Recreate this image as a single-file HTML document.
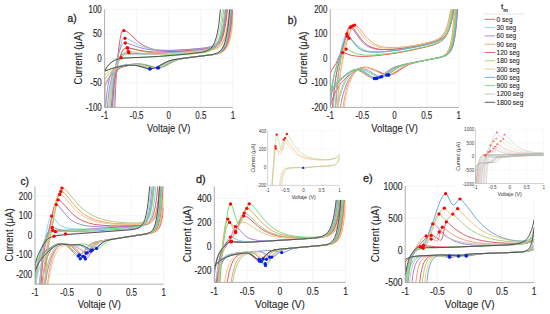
<!DOCTYPE html><html><head><meta charset="utf-8"><style>html,body{margin:0;padding:0;background:#fff;}svg{display:block;}</style></head><body>
<svg width="550" height="314" viewBox="0 0 550 314" font-family='"Liberation Sans", sans-serif'>
<style>.t{stroke:#262626;stroke-width:0.1px;}</style>
<defs>
<clipPath id="clipa"><rect x="104.60" y="9.40" width="128.30" height="98.00"/></clipPath>
<clipPath id="clipb"><rect x="330.30" y="9.40" width="128.50" height="98.00"/></clipPath>
<clipPath id="clipc"><rect x="35.00" y="186.40" width="128.60" height="97.80"/></clipPath>
<clipPath id="clipd"><rect x="214.30" y="186.40" width="131.30" height="96.00"/></clipPath>
<clipPath id="clipe"><rect x="405.20" y="186.00" width="129.00" height="96.60"/></clipPath>
<clipPath id="clipi1"><rect x="267.60" y="130.70" width="72.00" height="54.70"/></clipPath>
<clipPath id="clipi2"><rect x="475.50" y="129.20" width="68.30" height="54.30"/></clipPath>
</defs>
<path d="M136.7 9.4V107.4M168.8 9.4V107.4M200.8 9.4V107.4M232.9 9.4V107.4M104.6 82.9H232.9M104.6 58.4H232.9M104.6 33.9H232.9M104.6 9.4H232.9" stroke="#efefef" stroke-width="0.6" fill="none"/>
<g clip-path="url(#clipa)" fill="none" stroke-width="0.95" stroke-linejoin="round" opacity="1.0">
<path d="M232.9 9.4 231.1 27.1 229.0 38.5 227.8 43.1 226.3 46.6 224.6 49.3 222.8 51.2 221.2 52.3 219.3 53.2 214.4 54.4 183.7 58.2 176.2 59.6 173.1 60.5 170.1 61.7 160.2 67.0 156.4 68.1 154.2 68.3 151.8 68.0 142.0 65.1 136.5 64.3 132.3 64.3 127.5 64.8 124.1 65.5 121.5 66.5 119.3 68.0 117.4 70.5 116.0 73.8 114.7 78.3 113.6 84.2 112.7 91.0 110.8 112.3 104.6 112.3 114.5 112.3 116.0 79.9 117.6 58.4 118.9 47.1 120.2 38.5 121.3 33.4 122.4 31.0 123.5 30.6 124.6 30.7 127.2 31.8 129.4 33.6 137.6 41.3 140.6 43.5 143.7 45.5 149.6 48.2 156.2 50.0 160.9 50.8 166.3 51.3 179.3 51.5 199.3 50.5 206.5 49.8 211.2 49.0 214.5 47.9 217.1 46.4 219.3 44.1 221.2 41.1 223.2 35.8 225.0 27.9 226.5 18.3 227.9 4.5 232.9 4.5" stroke="#f24a4a"/>
<path d="M232.9 4.5 232.2 4.5 232.0 4.8 230.1 24.4 229.0 32.2 227.8 38.7 226.5 43.2 225.2 46.4 223.5 49.2 221.7 51.2 220.1 52.4 218.2 53.2 213.3 54.5 182.4 58.4 174.9 59.7 171.8 60.7 168.8 61.9 158.9 67.1 155.1 68.3 152.9 68.4 150.5 68.1 140.8 65.2 135.1 64.4 130.7 64.5 125.9 65.0 122.4 65.8 119.7 66.8 117.3 68.6 115.4 70.9 113.8 74.5 112.5 78.7 111.4 83.9 110.3 91.1 108.3 112.3 104.6 112.3 113.4 112.3 115.1 83.6 116.9 64.8 118.4 55.2 120.2 46.1 121.7 41.0 123.0 38.8 123.9 38.4 125.2 38.3 127.7 38.9 138.6 44.9 145.0 47.5 150.9 49.0 157.6 49.9 169.2 50.4 184.4 49.9 203.0 48.4 207.9 47.8 211.6 46.9 214.9 45.5 217.5 43.3 219.5 40.5 221.3 36.3 223.0 30.6 224.3 24.1 225.6 15.1 226.7 4.6 232.9 4.5" stroke="#79d6f2"/>
<path d="M232.9 4.5 231.4 4.5 229.2 26.7 228.1 33.8 226.8 39.8 225.6 44.1 224.3 47.1 222.8 49.4 221.0 51.4 219.5 52.4 217.7 53.3 212.9 54.6 184.4 58.1 177.1 59.5 171.2 61.7 161.5 66.8 157.6 68.0 155.4 68.1 153.2 67.9 143.0 64.8 139.8 64.3 136.7 64.1 131.2 64.3 123.9 65.2 119.5 66.0 116.5 67.1 114.1 68.8 112.3 71.2 110.7 74.6 109.4 78.7 108.1 84.8 107.0 92.3 105.2 112.0 105.0 112.3 104.6 112.3 111.4 112.3 113.0 85.6 114.0 76.3 115.1 68.4 116.5 61.2 118.9 52.8 121.3 46.2 122.2 44.4 123.0 43.5 123.5 43.2 125.0 43.0 127.9 43.4 139.1 47.4 145.9 49.1 152.0 50.0 158.9 50.4 172.1 50.4 189.8 49.3 204.5 47.9 208.5 47.2 211.6 46.4 214.7 44.9 217.1 42.7 219.1 39.7 220.8 35.9 222.4 30.0 223.7 23.5 226.1 4.5 232.9 4.5" stroke="#a77bd6"/>
<path d="M232.9 16.6 231.1 31.4 230.0 37.2 228.7 42.1 227.4 45.6 225.7 48.6 223.9 50.7 221.9 52.2 218.6 53.5 213.8 54.5 184.3 58.1 176.6 59.5 173.4 60.4 170.3 61.6 160.0 67.1 156.2 68.2 154.0 68.3 151.8 68.0 142.6 65.3 137.8 64.6 134.9 64.6 131.6 64.9 124.8 66.4 121.1 67.7 118.0 69.3 115.2 71.1 112.7 73.5 110.3 76.4 108.3 79.5 106.4 83.2 104.6 87.7 104.8 112.3 111.9 112.3 113.8 88.5 114.9 79.3 116.2 71.7 118.2 63.2 121.1 54.0 123.1 49.5 123.9 48.6 124.8 48.1 127.0 47.7 129.6 47.9 140.9 51.1 148.1 52.4 155.4 53.0 164.3 53.2 182.6 52.4 205.0 50.4 213.3 49.1 216.0 48.2 218.2 47.0 220.1 45.6 221.7 43.6 223.2 41.0 224.5 37.8 226.1 31.9 227.4 25.2 230.0 4.5 232.9 4.5" stroke="#f59a6e"/>
<path d="M232.9 4.5 232.7 4.5 232.5 6.0 230.5 26.5 228.5 38.2 227.2 42.9 225.7 46.5 224.1 49.3 222.3 51.2 220.8 52.2 219.0 53.1 214.2 54.4 186.3 57.9 178.9 59.3 173.1 61.5 163.5 66.6 159.8 67.7 157.6 67.9 155.4 67.7 144.6 64.6 141.5 64.2 138.2 64.1 133.0 64.5 127.4 65.6 122.4 67.1 118.4 68.8 114.1 71.6 110.5 75.4 107.4 80.1 104.6 86.1 104.8 112.3 111.9 112.2 113.8 87.8 114.9 78.4 116.0 71.6 117.6 64.3 119.7 57.8 122.0 51.8 123.0 50.2 123.9 49.1 125.9 48.3 128.6 48.1 131.6 48.6 140.8 50.6 146.4 51.4 154.3 52.0 163.7 52.0 179.3 51.2 198.8 49.7 208.1 48.5 213.4 47.1 216.4 45.5 218.6 43.3 220.6 40.1 222.3 36.0 223.7 30.5 225.0 23.8 227.4 4.5 232.9 4.5" stroke="#d9576a"/>
<path d="M232.9 4.5 231.4 4.5 229.2 26.7 228.1 33.8 226.8 39.8 225.6 44.1 224.3 47.1 222.8 49.4 221.0 51.4 219.3 52.5 217.5 53.3 212.5 54.6 180.8 58.6 173.1 59.9 167.7 61.7 157.6 67.1 153.4 68.5 151.2 68.7 149.0 68.5 138.6 65.6 135.6 65.1 132.5 65.0 128.3 65.4 123.5 66.4 119.1 67.7 115.2 69.4 112.1 71.4 109.4 73.6 106.8 76.4 104.6 79.6 104.8 112.3 109.6 112.3 111.8 89.4 113.0 80.7 114.5 73.6 116.0 68.7 118.0 63.6 122.0 55.5 123.1 53.7 124.2 52.4 126.1 51.7 129.2 51.5 132.3 51.8 141.7 53.5 147.6 54.2 155.6 54.6 165.2 54.5 181.0 53.6 199.1 52.1 207.0 51.0 211.8 49.6 214.7 47.8 216.9 45.4 218.8 42.1 220.4 37.6 221.9 31.8 223.2 24.5 224.3 16.0 225.4 4.8 225.6 4.5 232.9 4.5" stroke="#a8cc72"/>
<path d="M232.9 22.5 230.9 35.8 229.8 40.5 228.5 44.4 227.0 47.5 225.4 49.8 223.4 51.6 221.0 52.9 217.8 53.8 213.4 54.6 184.6 58.1 176.9 59.4 171.2 61.2 160.8 66.7 158.4 67.7 156.2 68.2 154.0 68.3 151.6 68.0 142.8 65.4 138.2 64.6 132.5 64.6 125.5 65.6 118.7 67.3 113.2 69.3 108.6 71.9 104.6 75.2 104.8 112.3 108.5 112.3 109.6 99.1 110.8 87.5 112.1 79.3 113.6 72.6 115.2 67.5 117.1 63.7 121.9 56.7 124.2 53.8 125.7 53.0 129.2 52.7 142.8 54.0 149.6 54.4 158.9 54.5 170.3 54.0 187.7 52.7 205.4 51.0 212.5 49.9 217.1 48.5 219.5 47.1 221.5 45.1 223.4 42.3 224.8 38.9 226.5 33.3 227.9 26.0 229.2 16.9 230.5 4.5 232.9 4.5" stroke="#f2c47a"/>
<path d="M232.9 4.5 232.2 4.5 232.0 4.8 230.1 24.4 229.0 32.2 227.8 38.7 226.5 43.2 225.2 46.4 223.5 49.2 221.7 51.2 220.1 52.4 218.2 53.2 213.1 54.6 179.7 58.7 171.8 60.1 166.5 61.9 156.4 67.2 154.2 68.1 152.0 68.6 149.8 68.8 147.4 68.5 137.6 65.6 132.1 64.8 128.3 64.8 124.1 65.3 120.8 66.0 118.4 67.0 116.2 68.5 114.5 70.5 113.0 73.2 111.8 76.8 110.5 82.1 109.2 89.9 108.1 99.5 107.0 112.3 104.6 112.3 111.4 112.3 111.6 112.0 113.0 88.0 114.0 78.6 115.1 70.9 116.2 65.7 117.6 61.3 119.7 57.5 121.9 55.0 123.7 54.0 127.0 53.5 141.9 53.9 150.7 53.9 163.2 53.3 178.8 52.2 204.1 49.7 209.6 48.8 213.3 47.6 216.0 45.9 218.2 43.6 220.1 40.5 221.7 36.2 223.2 30.6 224.5 23.6 225.6 15.5 226.7 4.8 226.8 4.5 232.9 4.5" stroke="#6aa6d8"/>
<path d="M232.9 4.5 230.9 4.5 230.7 5.0 229.6 17.9 228.5 27.4 227.2 35.4 225.6 42.2 224.3 45.8 222.6 48.9 220.8 51.0 218.4 52.7 215.5 53.9 211.2 54.8 187.4 57.8 180.2 59.1 177.1 60.1 174.2 61.3 164.4 66.5 160.6 67.7 158.2 67.8 155.6 67.5 147.6 65.0 144.1 64.3 140.8 64.0 136.9 64.0 128.1 65.1 118.0 66.9 110.7 68.9 104.6 71.2 106.6 67.5 109.4 64.3 115.2 59.4 116.9 58.4 118.4 58.0 123.9 57.4 138.6 57.5 149.2 57.2 174.7 55.5 201.9 52.9 207.4 51.9 211.2 50.4 213.8 48.6 216.0 45.9 217.8 42.3 219.3 38.0 220.6 32.6 221.9 25.1 224.3 4.5 232.9 4.5" stroke="#6fdd6f"/>
<path d="M232.9 4.5 230.9 4.5 230.7 5.0 228.7 26.0 227.4 34.4 226.1 40.3 225.0 43.9 223.7 47.0 222.3 49.4 220.4 51.4 219.0 52.4 217.1 53.3 212.2 54.6 183.3 58.3 175.8 59.7 169.9 61.8 160.2 67.0 156.5 68.1 154.3 68.3 152.1 68.1 141.7 65.0 138.6 64.5 135.4 64.4 130.8 64.7 125.7 65.6 121.3 66.8 117.6 68.3 113.6 71.1 111.8 72.9 110.1 75.1 107.2 80.3 104.6 87.2 104.8 112.3 109.9 112.3 111.9 87.3 113.0 78.6 114.1 72.3 115.4 67.2 117.1 62.8 119.3 59.1 121.7 56.4 123.7 55.2 127.5 54.6 143.9 54.6 154.2 54.3 169.2 53.4 187.4 51.9 202.6 50.3 206.7 49.4 209.6 48.4 212.3 46.6 214.5 44.2 216.4 40.9 218.0 36.4 219.3 31.3 220.6 24.3 223.0 4.5 232.9 4.5" stroke="#c4c4c4"/>
<path d="M232.9 4.5 230.1 4.5 228.9 18.9 227.8 28.2 226.5 35.9 224.8 42.6 223.5 46.1 221.9 49.1 220.1 51.2 217.7 52.8 214.4 54.1 209.8 55.0 179.9 58.7 172.1 60.0 166.5 61.9 156.4 67.3 154.2 68.2 152.0 68.7 149.6 68.9 147.0 68.6 139.1 66.2 135.8 65.5 132.9 65.2 129.6 65.2 123.5 65.9 116.2 67.4 109.9 69.1 104.6 71.2 107.0 66.8 109.9 63.6 111.9 62.0 114.5 60.5 116.7 59.5 118.7 58.9 125.3 58.1 158.7 56.4 187.4 54.0 201.3 52.3 205.0 51.5 207.9 50.4 210.5 48.6 212.7 46.0 214.5 42.5 216.2 37.7 217.5 32.3 218.8 24.7 221.0 4.5 232.9 4.5" stroke="#4d4d4d"/>
<circle cx="123.9" cy="30.6" r="1.65" fill="#ff0000"/>
<circle cx="125.0" cy="38.3" r="1.65" fill="#ff0000"/>
<circle cx="125.3" cy="43.0" r="1.65" fill="#ff0000"/>
<circle cx="127.4" cy="47.7" r="1.65" fill="#ff0000"/>
<circle cx="127.5" cy="48.1" r="1.65" fill="#ff0000"/>
<circle cx="157.6" cy="67.9" r="1.65" fill="#0a1ee6"/>
<circle cx="128.3" cy="51.5" r="1.65" fill="#ff0000"/>
<circle cx="128.8" cy="52.7" r="1.65" fill="#ff0000"/>
<circle cx="150.1" cy="68.8" r="1.65" fill="#0a1ee6"/>
<circle cx="121.1" cy="57.6" r="1.65" fill="#ff0000"/>
<circle cx="158.7" cy="67.8" r="1.65" fill="#0a1ee6"/>
<circle cx="149.9" cy="68.9" r="1.65" fill="#0a1ee6"/>
</g>
<path d="M104.60 9.40 V107.40 H232.90" fill="none" stroke="#a6a6a6" stroke-width="0.9"/>
<text transform="translate(104.60,119.23) scale(1,1.25)" font-size="8.00" text-anchor="middle" fill="#262626" class="t">-1</text>
<text transform="translate(136.68,119.23) scale(1,1.25)" font-size="8.00" text-anchor="middle" fill="#262626" class="t">-0.5</text>
<text transform="translate(168.75,119.23) scale(1,1.25)" font-size="8.00" text-anchor="middle" fill="#262626" class="t">0</text>
<text transform="translate(200.82,119.23) scale(1,1.25)" font-size="8.00" text-anchor="middle" fill="#262626" class="t">0.5</text>
<text transform="translate(232.90,119.23) scale(1,1.25)" font-size="8.00" text-anchor="middle" fill="#262626" class="t">1</text>
<text transform="translate(101.80,110.98) scale(1,1.25)" font-size="8.00" text-anchor="end" fill="#262626" class="t">-100</text>
<text transform="translate(101.80,86.48) scale(1,1.25)" font-size="8.00" text-anchor="end" fill="#262626" class="t">-50</text>
<text transform="translate(101.80,61.98) scale(1,1.25)" font-size="8.00" text-anchor="end" fill="#262626" class="t">0</text>
<text transform="translate(101.80,37.48) scale(1,1.25)" font-size="8.00" text-anchor="end" fill="#262626" class="t">50</text>
<text transform="translate(101.80,12.98) scale(1,1.25)" font-size="8.00" text-anchor="end" fill="#262626" class="t">100</text>
<text transform="translate(168.75,131.60) scale(1,1.12)" font-size="9.40" text-anchor="middle" fill="#262626" class="t">Voltaje (V)</text>
<text transform="translate(81.80,58.00) rotate(-90) scale(1,1.12)" font-size="9.60" text-anchor="middle" fill="#262626" class="t">Current (μA)</text>
<text x="67.50" y="22.00" font-size="10.20" fill="#262626" stroke="#262626" stroke-width="0.3">a)</text>
<path d="M362.4 9.4V107.4M394.6 9.4V107.4M426.7 9.4V107.4M458.8 9.4V107.4M330.3 82.9H458.8M330.3 58.4H458.8M330.3 33.9H458.8M330.3 9.4H458.8" stroke="#efefef" stroke-width="0.6" fill="none"/>
<g clip-path="url(#clipb)" fill="none" stroke-width="0.95" stroke-linejoin="round" opacity="1.0">
<path d="M458.8 4.5 456.8 4.5 455.9 17.6 454.8 29.1 453.7 37.1 452.4 43.6 451.1 47.9 449.8 50.7 448.1 53.2 446.3 54.8 443.4 56.3 438.8 57.7 404.8 64.3 396.7 66.4 393.5 67.6 390.8 69.0 387.7 71.1 380.3 76.5 377.9 77.7 375.9 78.3 373.3 78.4 370.6 77.5 368.0 76.1 362.1 72.1 359.0 70.6 355.9 70.1 352.9 70.7 350.3 71.9 347.4 73.9 343.9 76.9 340.0 80.8 337.1 84.2 334.5 87.6 332.3 91.1 330.3 95.0 330.5 72.7 332.1 69.6 336.0 63.5 339.7 54.9 341.0 53.0 342.1 52.6 343.4 52.7 351.1 55.3 357.7 56.3 366.1 56.4 377.2 55.6 393.0 53.6 409.7 50.7 426.6 46.8 432.5 45.2 436.7 43.7 440.4 41.8 443.4 39.5 445.7 36.5 447.8 32.7 449.6 27.4 451.1 21.3 452.4 14.0 453.7 4.5 458.8 4.5" stroke="#f24a4a"/>
<path d="M458.8 4.5 457.5 4.5 457.3 5.6 455.5 28.1 454.4 36.5 453.3 42.3 452.2 46.4 450.9 49.7 449.4 52.2 447.6 54.2 444.6 56.0 440.0 57.4 406.6 64.0 398.5 66.1 395.6 67.3 392.8 68.7 389.7 70.8 382.1 76.6 379.9 77.8 377.7 78.4 375.2 78.4 372.4 77.5 369.8 76.0 363.6 71.5 360.3 69.9 358.6 69.6 357.0 69.5 355.3 69.8 353.6 70.4 350.7 72.4 347.8 75.6 345.2 79.6 343.0 84.3 341.1 89.5 339.5 95.7 338.0 102.8 336.6 112.1 336.4 112.3 330.3 112.3 333.1 112.3 335.1 86.8 336.2 77.0 337.5 68.2 339.7 56.3 342.6 42.9 344.5 36.7 345.2 35.1 345.9 34.1 346.5 33.8 347.2 33.8 348.9 35.0 354.9 44.0 356.8 46.1 358.8 48.0 360.8 49.3 363.2 50.4 365.8 51.2 368.7 51.7 373.5 52.0 379.4 51.9 386.7 51.4 395.0 50.4 412.3 47.7 429.0 43.9 435.3 42.1 439.7 40.2 443.0 38.1 445.6 35.4 447.0 33.1 448.3 30.5 450.5 24.1 452.4 15.6 454.0 4.5 458.8 4.5" stroke="#79d6f2"/>
<path d="M458.8 4.5 456.2 4.5 454.0 30.0 452.9 37.8 451.6 44.1 450.5 47.7 449.4 50.3 448.0 52.7 446.3 54.4 443.4 56.2 439.1 57.6 411.2 63.1 403.5 65.2 400.3 66.5 397.2 68.2 387.3 75.0 385.3 76.0 383.2 76.6 380.5 76.6 377.7 75.9 375.0 74.5 368.4 70.5 364.7 69.0 362.8 68.7 361.2 68.6 359.3 69.0 357.7 69.7 354.6 71.8 351.6 75.1 348.9 79.2 346.5 84.1 344.5 89.6 342.6 96.1 341.0 103.6 339.5 112.2 330.3 112.3 335.3 112.3 337.5 83.6 338.8 72.2 340.2 62.2 342.6 49.3 345.4 37.0 347.4 30.5 348.3 28.6 349.1 27.8 349.8 27.4 350.7 27.5 351.6 28.0 352.7 29.0 360.1 39.4 362.3 42.0 364.5 44.1 366.7 45.7 368.9 47.0 373.9 48.7 377.5 49.4 381.6 49.7 391.9 49.4 405.3 47.8 420.2 45.1 429.4 42.9 435.6 40.9 439.9 38.9 443.2 36.2 444.8 34.1 446.3 31.7 448.7 25.6 450.7 17.2 452.7 4.5 458.8 4.5" stroke="#a77bd6"/>
<path d="M458.8 4.5 454.9 4.5 453.1 27.0 452.2 34.5 451.1 41.1 449.8 46.3 448.5 49.8 446.9 52.7 445.0 54.7 442.3 56.4 438.6 57.6 416.2 62.2 409.2 64.2 403.5 66.8 393.7 73.2 391.5 74.2 389.3 74.8 386.6 74.8 383.4 74.1 372.6 69.0 368.2 67.5 366.0 67.2 363.9 67.2 361.9 67.6 359.9 68.4 356.6 70.7 353.5 73.9 350.9 77.7 348.7 82.2 346.8 87.6 345.2 94.3 343.9 101.2 342.2 112.3 330.3 112.3 336.9 112.3 337.1 111.9 338.2 94.9 339.3 82.4 340.6 71.8 342.1 62.8 344.6 51.0 348.7 35.8 351.1 28.9 352.2 26.8 353.1 25.6 353.8 25.2 354.7 25.1 355.9 25.4 357.0 26.0 359.5 28.6 366.3 37.1 369.8 40.5 372.2 42.4 374.8 44.0 377.5 45.3 380.5 46.3 383.8 47.1 387.5 47.5 396.1 47.6 407.0 46.6 419.5 44.5 428.3 42.5 434.4 40.6 438.6 38.6 441.7 36.2 443.4 34.2 444.8 31.8 446.1 29.0 447.4 25.4 449.4 17.0 451.4 4.5 458.8 4.5" stroke="#f59a6e"/>
<path d="M458.8 4.5 458.1 4.5 456.2 27.2 455.3 34.5 454.2 40.9 453.1 45.4 451.8 49.0 450.2 52.0 448.3 54.0 445.6 55.7 441.7 57.0 417.8 61.9 410.6 63.9 407.7 65.1 404.8 66.7 394.8 73.3 392.6 74.3 390.6 74.8 387.8 74.9 384.9 74.3 372.9 69.3 367.3 67.7 364.7 67.4 362.3 67.5 360.1 68.1 357.7 69.1 352.7 72.2 345.9 77.9 341.5 82.3 338.0 87.0 334.5 93.7 331.4 102.4 330.3 106.4 330.5 112.3 332.0 112.3 334.5 85.5 335.8 76.8 337.5 68.4 346.5 34.1 348.1 29.4 349.6 27.1 350.3 26.8 351.4 26.9 353.5 28.4 361.2 39.1 363.4 41.6 365.6 43.6 367.8 45.3 370.0 46.6 375.0 48.4 378.5 49.1 382.5 49.5 392.3 49.4 404.9 48.0 419.6 45.4 429.9 43.0 436.9 40.9 441.5 38.8 443.4 37.5 445.0 36.0 446.7 33.9 448.1 31.5 449.4 28.6 450.7 24.9 452.7 16.3 454.6 4.5 458.8 4.5" stroke="#d9576a"/>
<path d="M458.8 4.5 455.5 4.5 453.8 26.0 452.9 33.7 451.8 40.5 450.5 45.9 449.2 49.5 447.6 52.5 445.7 54.5 442.8 56.3 438.2 57.8 404.6 64.4 396.5 66.5 393.5 67.7 390.8 69.1 387.8 71.1 380.7 76.5 378.5 77.7 376.4 78.4 373.9 78.4 371.3 77.6 368.9 76.2 363.2 72.1 360.3 70.7 357.3 70.3 354.4 71.2 351.6 73.1 348.9 76.1 346.3 80.0 343.9 84.8 341.9 90.3 340.2 96.0 338.6 103.3 336.9 112.3 330.3 112.3 334.7 112.3 336.7 85.6 337.8 76.1 339.1 67.7 341.1 57.7 343.7 47.7 345.7 41.8 346.7 40.0 347.6 38.8 348.3 38.4 349.2 38.3 351.1 39.1 358.4 46.2 360.8 48.0 363.2 49.4 365.6 50.4 368.2 51.1 374.2 51.9 379.2 51.9 385.3 51.6 400.2 49.9 417.3 46.7 425.3 44.9 431.6 43.2 436.0 41.6 439.3 39.9 441.9 37.9 444.1 35.3 446.7 30.5 448.7 24.3 450.5 15.7 452.2 4.5 458.8 4.5" stroke="#a8cc72"/>
<path d="M458.8 4.5 455.9 4.5 454.2 25.4 453.3 33.3 452.2 40.2 450.9 45.7 449.6 49.3 448.0 52.3 445.9 54.5 443.2 56.2 439.3 57.5 415.2 62.4 408.1 64.3 405.1 65.5 402.2 67.1 392.4 73.4 390.2 74.4 388.2 74.9 385.5 75.0 382.3 74.3 379.6 73.1 372.0 69.1 368.0 67.7 366.0 67.3 363.9 67.4 362.1 67.8 360.3 68.5 357.1 70.7 354.4 73.6 352.0 77.3 349.8 82.1 347.9 87.7 346.5 93.8 345.0 101.9 343.5 112.3 330.3 112.3 337.3 112.3 337.5 111.7 338.6 93.9 339.7 80.6 341.0 68.9 342.4 58.8 344.6 46.9 347.2 36.2 349.4 29.5 350.5 27.4 351.4 26.3 352.4 25.9 353.5 25.9 354.6 26.4 355.7 27.3 357.7 29.5 364.3 38.0 366.5 40.3 368.9 42.4 373.3 45.2 378.1 47.0 381.4 47.7 385.3 48.1 394.5 48.1 406.0 46.9 419.5 44.6 428.7 42.5 435.1 40.5 439.3 38.6 442.6 36.0 444.3 34.0 445.7 31.6 447.0 28.9 448.3 25.3 450.3 17.0 452.4 4.5 458.8 4.5" stroke="#f2c47a"/>
<path d="M458.8 4.5 457.9 4.5 457.7 4.8 455.9 27.7 454.8 36.1 453.7 42.0 452.4 46.8 451.1 49.9 449.4 52.6 447.6 54.4 444.6 56.0 440.0 57.4 407.7 63.8 399.6 65.9 396.1 67.3 393.0 69.0 382.7 76.4 380.7 77.4 378.6 78.0 375.9 78.0 373.1 77.2 370.4 75.7 363.8 71.5 359.9 69.8 357.9 69.4 356.0 69.4 354.2 69.7 352.2 70.4 349.8 71.6 347.0 73.5 339.7 79.7 334.5 85.0 330.5 90.6 330.3 90.9 330.5 105.1 332.5 85.4 333.6 78.2 334.9 71.8 336.6 65.6 343.7 42.2 345.2 38.4 346.5 36.5 347.0 36.3 347.8 36.3 349.4 37.3 355.7 45.4 357.5 47.3 359.5 48.9 361.7 50.2 364.1 51.1 366.7 51.7 369.8 52.1 375.0 52.2 381.4 52.0 397.6 50.2 415.2 47.1 431.6 43.3 436.9 41.5 440.8 39.7 443.9 37.5 446.3 34.7 448.9 29.9 450.9 23.8 452.5 16.3 454.4 4.5 458.8 4.5" stroke="#6aa6d8"/>
<path d="M458.8 4.5 456.6 4.5 456.4 5.0 455.5 18.2 454.4 29.5 453.3 37.5 452.0 43.8 450.7 48.0 449.4 50.9 447.8 53.3 445.9 54.9 443.2 56.4 438.9 57.6 410.3 63.3 402.5 65.3 399.2 66.6 396.1 68.3 385.8 75.4 383.6 76.5 381.6 77.0 378.8 77.0 375.9 76.2 366.1 71.0 362.3 69.4 358.6 68.9 354.9 69.5 352.0 70.8 348.5 73.1 343.9 76.9 339.1 81.3 335.8 84.8 333.1 88.4 330.3 92.8 330.5 93.7 332.5 81.0 334.7 72.3 336.0 68.7 339.7 60.6 343.0 52.2 343.9 50.4 344.8 49.4 345.9 49.1 347.4 49.3 354.4 52.9 357.0 53.8 359.7 54.5 366.3 55.2 375.0 54.9 389.9 53.4 406.8 50.7 424.6 46.8 431.2 45.0 435.8 43.5 439.9 41.5 442.8 39.3 445.2 36.5 447.2 32.8 449.1 27.7 450.5 22.0 451.8 15.1 453.3 4.5 458.8 4.5" stroke="#6fdd6f"/>
<circle cx="342.6" cy="52.6" r="1.65" fill="#ff0000"/>
<circle cx="374.4" cy="78.5" r="1.65" fill="#0a1ee6"/>
<circle cx="346.8" cy="33.8" r="1.65" fill="#ff0000"/>
<circle cx="376.4" cy="78.6" r="1.65" fill="#0a1ee6"/>
<circle cx="350.2" cy="27.4" r="1.65" fill="#ff0000"/>
<circle cx="381.8" cy="76.7" r="1.65" fill="#0a1ee6"/>
<circle cx="354.6" cy="25.1" r="1.65" fill="#ff0000"/>
<circle cx="387.7" cy="74.9" r="1.65" fill="#0a1ee6"/>
<circle cx="350.7" cy="26.8" r="1.65" fill="#ff0000"/>
<circle cx="388.8" cy="75.0" r="1.65" fill="#0a1ee6"/>
<circle cx="349.1" cy="38.3" r="1.65" fill="#ff0000"/>
<circle cx="375.0" cy="78.5" r="1.65" fill="#0a1ee6"/>
<circle cx="352.7" cy="25.9" r="1.65" fill="#ff0000"/>
<circle cx="386.6" cy="75.1" r="1.65" fill="#0a1ee6"/>
<circle cx="347.4" cy="36.2" r="1.65" fill="#ff0000"/>
<circle cx="377.2" cy="78.1" r="1.65" fill="#0a1ee6"/>
<circle cx="346.1" cy="49.1" r="1.65" fill="#ff0000"/>
<circle cx="380.1" cy="77.1" r="1.65" fill="#0a1ee6"/>
</g>
<path d="M330.30 9.40 V107.40 H458.80" fill="none" stroke="#a6a6a6" stroke-width="0.9"/>
<text transform="translate(330.30,119.23) scale(1,1.25)" font-size="8.00" text-anchor="middle" fill="#262626" class="t">-1</text>
<text transform="translate(362.43,119.23) scale(1,1.25)" font-size="8.00" text-anchor="middle" fill="#262626" class="t">-0.5</text>
<text transform="translate(394.55,119.23) scale(1,1.25)" font-size="8.00" text-anchor="middle" fill="#262626" class="t">0</text>
<text transform="translate(426.68,119.23) scale(1,1.25)" font-size="8.00" text-anchor="middle" fill="#262626" class="t">0.5</text>
<text transform="translate(458.80,119.23) scale(1,1.25)" font-size="8.00" text-anchor="middle" fill="#262626" class="t">1</text>
<text transform="translate(327.50,110.98) scale(1,1.25)" font-size="8.00" text-anchor="end" fill="#262626" class="t">-200</text>
<text transform="translate(327.50,86.48) scale(1,1.25)" font-size="8.00" text-anchor="end" fill="#262626" class="t">-100</text>
<text transform="translate(327.50,61.98) scale(1,1.25)" font-size="8.00" text-anchor="end" fill="#262626" class="t">0</text>
<text transform="translate(327.50,37.48) scale(1,1.25)" font-size="8.00" text-anchor="end" fill="#262626" class="t">100</text>
<text transform="translate(327.50,12.98) scale(1,1.25)" font-size="8.00" text-anchor="end" fill="#262626" class="t">200</text>
<text transform="translate(394.55,131.60) scale(1,1.12)" font-size="9.40" text-anchor="middle" fill="#262626" class="t">Voltage (V)</text>
<text transform="translate(306.50,58.00) rotate(-90) scale(1,1.12)" font-size="9.60" text-anchor="middle" fill="#262626" class="t">Current (μA)</text>
<text x="287.80" y="23.50" font-size="10.20" fill="#262626" stroke="#262626" stroke-width="0.3">b)</text>
<path d="M67.2 186.4V284.2M99.3 186.4V284.2M131.4 186.4V284.2M163.6 186.4V284.2M35.0 274.4H163.6M35.0 254.9H163.6M35.0 235.3H163.6M35.0 215.7H163.6M35.0 196.2H163.6" stroke="#efefef" stroke-width="0.6" fill="none"/>
<g clip-path="url(#clipc)" fill="none" stroke-width="0.95" stroke-linejoin="round" opacity="1.0">
<path d="M163.6 208.3 162.1 218.6 160.5 225.0 159.4 227.6 158.3 229.3 156.8 230.8 155.1 231.8 152.4 232.8 148.0 233.7 100.5 241.0 94.2 242.3 91.7 243.4 89.3 245.1 86.9 247.6 81.7 254.1 80.3 255.4 78.8 256.0 77.3 255.8 75.7 254.8 69.0 247.6 65.5 244.9 63.5 244.0 61.3 243.6 59.3 243.6 57.1 244.1 53.6 245.8 48.4 249.2 44.8 252.2 42.0 255.2 40.0 258.2 38.1 262.0 36.5 266.7 35.0 272.2 35.2 289.1 39.0 289.1 39.2 288.7 41.4 263.5 42.9 252.1 44.4 243.4 45.7 237.9 46.8 234.9 48.4 232.4 50.5 231.0 53.9 230.3 67.2 230.2 81.0 229.6 136.4 225.9 145.4 224.8 148.1 224.0 150.2 222.9 152.0 221.2 153.7 218.7 155.0 215.7 156.2 211.3 157.3 205.8 158.3 199.6 160.1 181.5 163.6 181.5" stroke="#f24a4a"/>
<path d="M163.6 181.5 163.0 181.5 161.4 205.1 160.5 213.3 159.6 219.0 158.4 223.7 157.3 226.8 156.1 229.2 154.4 231.0 151.5 232.7 147.0 233.8 102.2 240.8 96.1 242.1 93.5 243.4 91.1 245.5 88.9 248.3 83.6 256.5 82.1 258.0 80.6 258.7 79.2 258.4 77.7 257.3 71.1 248.6 69.0 246.6 66.8 245.1 64.1 244.0 61.1 243.5 58.5 243.7 55.8 244.7 52.7 246.6 49.5 249.4 47.1 252.3 45.1 255.8 43.1 261.1 41.3 268.7 39.8 277.7 38.5 288.9 38.3 289.1 35.0 289.1 40.0 289.1 42.0 263.9 44.2 245.9 46.2 233.5 48.1 223.9 49.4 219.0 50.1 217.2 50.6 216.4 51.7 216.1 52.8 216.7 58.0 223.3 59.7 224.9 61.3 226.1 65.2 227.7 70.3 228.6 76.0 229.0 84.1 229.1 106.0 228.7 134.3 227.2 139.9 226.6 143.4 225.9 146.1 224.6 148.3 222.6 150.2 219.6 151.6 215.7 152.9 210.4 154.2 202.7 156.4 181.5 163.6 181.5" stroke="#79d6f2"/>
<path d="M163.6 181.5 161.8 181.5 160.1 205.3 159.2 213.5 158.1 220.1 157.2 223.9 156.1 227.0 154.8 229.4 153.1 231.2 150.4 232.8 146.1 233.9 106.9 240.0 103.3 240.8 100.9 241.5 98.3 243.0 96.1 245.1 93.9 248.1 88.7 256.6 87.2 258.2 85.8 258.9 84.5 258.7 83.0 257.7 76.8 249.4 74.9 247.6 73.1 246.4 70.0 245.3 65.2 244.6 62.2 244.7 59.7 245.5 57.3 247.2 54.9 250.1 52.7 254.0 50.6 259.0 49.0 264.5 47.3 271.7 44.6 289.1 35.0 289.1 41.8 289.1 42.0 288.7 44.8 263.6 50.6 223.1 53.0 210.2 54.1 206.6 55.1 205.2 55.8 204.7 56.7 204.7 57.6 205.0 58.5 205.7 66.5 215.6 68.9 218.1 71.4 220.2 73.8 221.7 76.4 223.0 82.5 225.0 86.9 225.9 91.8 226.5 105.1 227.0 127.9 226.6 135.1 226.2 139.5 225.6 142.8 224.4 145.2 222.7 147.2 219.8 148.9 215.7 150.4 209.9 151.6 202.2 152.7 192.6 153.7 181.7 153.8 181.5 163.6 181.5" stroke="#a77bd6"/>
<path d="M163.6 201.7 162.1 214.9 161.2 220.0 160.1 224.3 159.0 227.1 157.7 229.3 156.1 231.0 154.0 232.1 151.5 233.0 147.4 233.8 107.7 239.9 101.6 241.2 99.0 242.2 96.8 243.6 94.6 245.6 89.5 251.3 87.8 252.4 86.3 252.9 85.0 252.9 83.6 252.3 77.1 247.3 75.3 246.3 73.3 245.6 68.7 244.9 64.1 244.5 61.5 244.9 59.3 245.9 57.3 247.8 55.2 250.8 53.6 254.4 51.9 259.2 50.5 265.1 49.2 271.8 46.8 289.1 35.0 289.1 44.2 289.1 46.4 260.5 48.8 242.1 56.5 201.6 58.4 194.7 59.3 192.5 60.0 191.6 60.9 191.4 62.2 191.7 64.6 193.3 66.8 195.8 75.1 206.1 78.2 209.3 81.4 212.1 84.3 214.3 87.4 216.3 94.1 219.4 98.5 220.8 103.3 221.9 108.6 222.8 114.5 223.5 129.6 224.0 138.6 223.9 144.8 223.6 149.1 222.8 152.0 221.6 154.4 219.3 156.2 216.1 157.9 211.1 159.4 204.0 160.7 194.5 161.9 181.5 163.6 181.5" stroke="#f59a6e"/>
<path d="M163.6 182.5 162.1 204.0 160.5 217.4 159.4 222.6 158.3 226.1 156.8 229.0 155.0 231.0 152.0 232.6 147.6 233.7 104.5 240.4 98.5 241.8 95.9 243.0 93.7 244.7 91.5 247.2 86.1 254.4 84.7 255.7 83.2 256.3 81.7 256.1 80.3 255.2 73.8 248.3 71.8 246.7 69.6 245.5 65.9 244.2 62.4 243.6 59.7 243.7 57.1 244.5 53.9 246.6 51.2 249.7 48.8 253.6 47.0 258.1 45.3 264.0 44.0 270.4 42.7 279.1 41.6 289.1 35.0 289.1 40.7 289.1 42.5 264.8 43.6 255.2 44.9 247.1 54.1 207.3 55.6 202.5 56.3 200.9 57.1 200.0 57.8 199.8 58.9 199.9 61.1 201.3 70.5 211.9 73.3 214.6 76.2 217.0 79.2 218.9 82.1 220.5 88.7 223.0 93.1 224.1 98.1 224.9 110.2 225.8 119.1 225.9 129.6 225.7 138.2 225.4 143.2 224.8 146.3 224.0 148.7 222.6 150.5 220.8 152.2 217.9 154.0 212.6 155.5 205.5 156.8 196.0 158.1 181.9 158.3 181.5 163.6 181.5" stroke="#d9576a"/>
<path d="M163.6 181.5 161.8 181.5 160.1 205.3 159.2 213.5 158.1 220.1 157.2 223.9 156.1 227.0 154.8 229.4 153.1 231.2 150.2 232.9 145.6 234.0 101.4 240.9 95.2 242.2 92.6 243.3 90.4 244.8 88.2 247.0 83.0 253.1 81.5 254.3 80.1 254.8 78.6 254.7 76.9 253.9 70.3 247.6 66.6 245.2 64.4 244.4 62.4 244.1 60.4 244.3 58.5 245.0 56.0 246.8 53.4 250.0 51.2 254.0 49.4 258.7 47.9 263.8 46.4 270.5 43.6 289.1 35.0 289.1 44.6 289.1 46.8 261.0 49.0 243.9 57.8 197.8 59.5 191.4 60.4 189.2 61.1 188.2 62.0 188.0 63.3 188.3 64.6 189.0 66.1 190.2 76.8 202.9 79.9 206.2 83.2 209.2 88.9 213.3 95.0 216.6 99.0 218.2 103.4 219.6 108.0 220.8 113.2 221.7 125.5 222.8 132.5 223.0 137.8 222.9 142.3 222.3 145.2 220.9 146.5 219.9 147.6 218.6 149.4 215.1 151.1 209.8 152.4 203.2 153.7 193.5 154.8 181.5 163.6 181.5" stroke="#a8cc72"/>
<path d="M163.6 193.3 162.1 210.1 160.5 220.6 159.4 224.7 158.3 227.4 157.0 229.5 155.3 231.1 152.6 232.5 148.1 233.6 106.6 240.1 102.9 240.8 100.3 241.5 97.7 242.8 95.5 244.7 93.3 247.4 88.2 254.9 86.7 256.4 85.2 257.1 83.8 256.9 82.3 256.0 76.2 249.2 74.6 247.8 72.7 246.7 70.1 246.0 67.0 245.7 64.3 245.9 61.9 246.6 59.5 248.3 57.4 250.8 55.4 254.4 53.6 259.0 51.9 264.4 50.3 271.3 47.1 289.1 35.0 289.1 42.2 289.1 42.4 288.7 44.4 265.0 47.0 246.2 54.9 205.0 56.7 198.0 57.6 195.8 58.4 194.9 59.3 194.5 60.6 194.6 61.9 195.2 63.1 196.2 65.4 198.5 73.8 208.3 76.9 211.3 80.3 214.0 86.3 217.8 93.0 220.6 97.4 221.9 102.3 222.9 107.9 223.7 113.9 224.3 130.1 224.6 138.9 224.4 144.7 224.0 148.3 223.2 151.1 221.9 153.3 219.6 155.0 216.6 156.6 211.7 158.1 204.6 159.4 195.1 160.7 181.5 163.6 181.5" stroke="#f2c47a"/>
<path d="M163.6 181.5 161.2 181.5 159.4 206.4 158.3 215.5 157.2 221.5 156.2 224.9 155.1 227.7 154.0 229.6 152.6 231.2 149.8 232.9 145.6 234.0 111.9 239.3 106.2 240.5 103.8 241.5 101.8 242.8 99.6 244.7 94.6 249.6 93.0 250.7 91.5 251.2 90.2 251.1 88.7 250.6 82.5 246.4 80.6 245.6 78.6 245.1 70.0 244.6 60.9 243.4 58.0 243.7 54.9 244.9 46.8 249.8 42.4 253.1 39.2 256.7 36.7 261.3 35.0 265.6 35.2 289.1 35.4 289.1 37.8 267.3 39.0 259.4 40.3 253.5 42.5 246.2 47.9 232.6 49.4 229.4 50.5 228.0 51.7 227.5 53.4 227.6 60.8 230.0 66.1 231.0 71.4 231.5 78.4 231.5 97.7 230.8 127.7 228.9 136.0 228.1 140.6 226.9 143.0 225.5 145.0 223.3 146.7 220.2 148.1 215.8 149.4 210.0 150.5 202.7 152.6 181.5 163.6 181.5" stroke="#6aa6d8"/>
<path d="M163.6 181.5 162.5 181.5 162.3 182.7 160.8 204.2 159.9 212.7 158.8 219.6 157.7 224.1 156.6 227.1 155.1 229.7 153.5 231.3 150.9 232.7 146.9 233.8 117.2 238.5 111.7 239.6 109.5 240.4 107.5 241.5 100.3 247.1 98.8 247.9 97.4 248.3 96.1 248.3 94.6 248.0 88.4 245.0 84.7 244.1 81.7 244.0 71.6 244.8 61.1 243.7 58.9 243.9 56.7 244.6 52.3 247.3 46.2 252.2 42.5 256.2 39.8 260.2 37.2 265.7 35.0 272.2 35.2 282.4 37.6 264.5 38.9 257.8 40.3 251.8 42.0 246.8 44.2 241.6 47.1 235.8 49.0 233.5 51.4 232.3 54.7 231.7 80.8 230.7 123.7 227.9 137.1 226.7 140.4 226.0 142.8 225.2 145.2 223.7 147.2 221.3 148.9 217.9 150.2 213.9 151.3 208.8 152.4 201.8 154.4 181.5 163.6 181.5" stroke="#6fdd6f"/>
<path d="M163.6 181.5 160.5 181.5 159.0 203.5 158.1 212.3 157.2 218.4 156.1 223.4 155.0 226.8 153.5 229.6 151.8 231.4 149.1 233.0 144.8 234.1 108.4 239.8 102.5 241.1 100.1 242.1 98.1 243.4 95.9 245.5 90.7 251.1 89.1 252.3 87.6 252.7 86.3 252.7 84.9 252.1 78.6 247.3 76.8 246.3 74.7 245.6 62.4 243.9 59.7 244.1 56.9 245.0 53.0 247.6 48.6 251.8 45.1 256.2 42.2 261.1 39.6 267.3 37.2 275.5 35.0 286.0 35.2 289.1 35.4 289.1 35.6 288.1 36.8 276.7 38.1 267.7 39.4 260.7 40.9 254.6 42.5 249.5 44.4 245.4 46.4 242.2 48.8 239.7 51.4 238.0 56.7 235.3 58.4 234.6 60.2 234.3 90.6 232.5 128.3 229.7 135.8 228.8 138.2 228.2 140.1 227.4 142.4 225.7 144.3 223.3 145.9 219.6 147.2 215.2 148.3 209.7 149.4 202.1 151.3 181.8 151.5 181.5 163.6 181.5" stroke="#c4c4c4"/>
<path d="M163.6 181.5 159.9 181.5 158.3 204.7 157.3 213.1 156.4 219.0 155.3 223.9 154.0 227.5 152.6 230.1 150.5 232.0 148.0 233.3 143.9 234.3 113.0 239.1 107.3 240.3 105.1 241.2 103.1 242.4 100.9 244.1 95.9 248.6 94.2 249.6 92.8 250.0 91.5 250.0 90.0 249.6 83.9 246.0 80.4 244.9 77.9 244.7 70.5 244.9 62.0 244.0 60.0 244.1 58.2 244.6 55.2 246.0 51.9 248.3 47.0 252.7 43.3 256.5 40.9 259.6 38.7 263.2 36.8 267.0 35.0 271.7 35.2 263.2 36.8 258.1 38.7 253.5 41.3 248.5 46.0 240.7 47.7 238.9 50.3 237.4 52.7 236.6 55.8 235.9 64.8 234.7 131.0 229.8 136.4 228.8 138.2 228.2 139.9 227.2 141.9 225.4 143.5 222.7 144.8 219.6 146.1 214.9 147.2 209.1 148.1 202.6 150.2 181.5 163.6 181.5" stroke="#4d4d4d"/>
<circle cx="52.8" cy="230.4" r="1.65" fill="#ff0000"/>
<circle cx="78.4" cy="256.0" r="1.65" fill="#0a1ee6"/>
<circle cx="51.6" cy="216.1" r="1.65" fill="#ff0000"/>
<circle cx="80.3" cy="258.7" r="1.65" fill="#0a1ee6"/>
<circle cx="56.3" cy="204.6" r="1.65" fill="#ff0000"/>
<circle cx="85.4" cy="258.9" r="1.65" fill="#0a1ee6"/>
<circle cx="60.9" cy="191.4" r="1.65" fill="#ff0000"/>
<circle cx="86.0" cy="253.0" r="1.65" fill="#0a1ee6"/>
<circle cx="58.0" cy="199.8" r="1.65" fill="#ff0000"/>
<circle cx="82.8" cy="256.4" r="1.65" fill="#0a1ee6"/>
<circle cx="62.0" cy="188.0" r="1.65" fill="#ff0000"/>
<circle cx="79.5" cy="254.9" r="1.65" fill="#0a1ee6"/>
<circle cx="59.7" cy="194.5" r="1.65" fill="#ff0000"/>
<circle cx="84.7" cy="257.1" r="1.65" fill="#0a1ee6"/>
<circle cx="52.3" cy="227.5" r="1.65" fill="#ff0000"/>
<circle cx="90.9" cy="251.2" r="1.65" fill="#0a1ee6"/>
<circle cx="55.4" cy="231.7" r="1.65" fill="#ff0000"/>
<circle cx="96.6" cy="248.4" r="1.65" fill="#0a1ee6"/>
<circle cx="65.5" cy="233.9" r="1.65" fill="#ff0000"/>
<circle cx="87.2" cy="252.8" r="1.65" fill="#0a1ee6"/>
<circle cx="54.1" cy="236.2" r="1.65" fill="#ff0000"/>
<circle cx="92.2" cy="250.0" r="1.65" fill="#0a1ee6"/>
</g>
<path d="M35.00 186.40 V284.20 H163.60" fill="none" stroke="#a6a6a6" stroke-width="0.9"/>
<text transform="translate(35.00,296.03) scale(1,1.25)" font-size="8.00" text-anchor="middle" fill="#262626" class="t">-1</text>
<text transform="translate(67.15,296.03) scale(1,1.25)" font-size="8.00" text-anchor="middle" fill="#262626" class="t">-0.5</text>
<text transform="translate(99.30,296.03) scale(1,1.25)" font-size="8.00" text-anchor="middle" fill="#262626" class="t">0</text>
<text transform="translate(131.45,296.03) scale(1,1.25)" font-size="8.00" text-anchor="middle" fill="#262626" class="t">0.5</text>
<text transform="translate(163.60,296.03) scale(1,1.25)" font-size="8.00" text-anchor="middle" fill="#262626" class="t">1</text>
<text transform="translate(32.20,278.00) scale(1,1.25)" font-size="8.00" text-anchor="end" fill="#262626" class="t">-200</text>
<text transform="translate(32.20,258.44) scale(1,1.25)" font-size="8.00" text-anchor="end" fill="#262626" class="t">-100</text>
<text transform="translate(32.20,238.88) scale(1,1.25)" font-size="8.00" text-anchor="end" fill="#262626" class="t">0</text>
<text transform="translate(32.20,219.32) scale(1,1.25)" font-size="8.00" text-anchor="end" fill="#262626" class="t">100</text>
<text transform="translate(32.20,199.76) scale(1,1.25)" font-size="8.00" text-anchor="end" fill="#262626" class="t">200</text>
<text transform="translate(99.30,308.40) scale(1,1.12)" font-size="9.40" text-anchor="middle" fill="#262626" class="t">Voltaje (V)</text>
<text transform="translate(12.50,234.90) rotate(-90) scale(1,1.12)" font-size="9.60" text-anchor="middle" fill="#262626" class="t">Current (μA)</text>
<text x="20.50" y="184.50" font-size="10.20" fill="#262626" stroke="#262626" stroke-width="0.3">c)</text>
<path d="M247.1 186.4V282.4M280.0 186.4V282.4M312.8 186.4V282.4M345.6 186.4V282.4M214.3 270.4H345.6M214.3 246.4H345.6M214.3 222.4H345.6M214.3 198.4H345.6" stroke="#efefef" stroke-width="0.6" fill="none"/>
<g clip-path="url(#clipd)" fill="none" stroke-width="0.95" stroke-linejoin="round" opacity="1.0">
<path d="M345.6 185.9 343.9 209.2 342.8 219.3 341.7 226.5 340.3 232.4 338.8 236.8 337.1 239.9 334.9 242.2 333.2 243.3 331.3 244.0 325.7 245.1 279.7 249.2 274.0 250.0 271.6 250.8 269.3 252.0 267.3 253.7 262.6 258.5 261.1 259.5 259.8 259.9 258.4 259.8 257.1 259.3 250.7 254.2 248.9 253.2 246.8 252.7 243.6 252.5 238.5 252.8 233.5 253.6 229.9 254.6 227.4 255.7 225.4 257.4 223.7 259.4 222.2 262.0 220.5 266.4 219.2 271.3 217.9 278.1 216.6 287.2 214.3 287.2 217.3 287.2 217.5 287.0 219.4 268.3 220.5 261.2 221.6 256.2 222.9 252.1 224.8 247.9 227.4 243.5 228.4 242.4 229.1 241.9 231.6 241.4 241.7 242.2 252.4 242.0 313.3 238.2 320.1 237.6 324.4 236.8 327.8 235.6 330.4 234.0 332.5 231.9 334.1 229.3 335.6 226.0 337.0 222.1 338.5 215.8 340.0 206.8 341.3 196.0 342.6 181.6 345.6 181.6" stroke="#f24a4a"/>
<path d="M345.6 181.6 343.9 181.6 341.8 210.4 340.7 220.2 339.4 228.2 338.1 233.5 336.8 237.2 335.1 240.2 333.2 242.2 331.7 243.2 329.8 244.0 324.7 245.1 285.5 248.7 282.1 249.2 279.9 249.7 277.4 250.9 275.3 252.7 273.3 255.4 268.4 263.3 266.9 264.8 265.6 265.4 264.3 265.1 262.8 263.9 257.9 256.9 256.0 254.7 254.1 253.2 252.2 252.4 248.5 252.0 241.5 252.5 233.8 253.5 229.1 254.7 226.7 255.9 224.6 257.5 222.8 259.9 221.3 262.7 219.6 267.4 218.2 272.6 217.1 278.8 216.0 286.9 215.8 287.2 214.3 287.2 216.0 287.2 216.2 286.4 217.1 275.9 218.2 266.7 219.4 260.1 220.7 254.8 222.4 250.1 227.1 240.2 228.2 238.2 229.1 237.3 230.3 237.1 231.4 237.2 238.0 240.0 242.7 241.2 248.5 241.7 256.2 241.7 282.3 240.2 316.1 237.9 320.4 237.3 323.6 236.6 326.3 235.5 328.5 234.1 330.8 231.7 332.6 228.6 334.3 224.3 335.8 218.9 337.1 212.4 338.3 204.9 340.7 181.6 345.6 181.6" stroke="#79d6f2"/>
<path d="M345.6 181.6 343.3 181.6 343.2 182.8 342.2 198.0 341.1 211.4 339.8 222.3 338.5 229.6 337.1 234.5 335.8 237.8 334.3 240.4 332.5 242.3 330.9 243.3 329.1 244.1 324.2 245.2 290.9 248.2 285.7 249.0 283.6 249.7 281.7 250.6 279.7 252.0 275.0 255.9 273.5 256.7 272.2 257.0 270.8 257.0 269.3 256.5 264.5 253.3 262.4 252.3 260.3 251.6 258.1 251.3 252.6 251.5 240.0 252.8 234.6 253.6 230.6 254.7 227.8 256.1 225.6 257.9 223.7 260.1 222.0 263.0 220.1 267.6 218.6 272.9 217.3 279.1 216.0 287.2 214.3 287.2 216.9 287.2 219.2 266.3 220.5 259.0 222.0 253.4 224.1 248.9 227.8 244.1 229.1 241.9 230.6 238.2 233.5 229.4 234.2 227.7 235.0 226.8 236.1 226.7 237.4 227.4 243.6 234.2 245.7 236.0 247.7 237.4 250.0 238.5 252.4 239.4 258.3 240.5 264.1 240.9 271.8 240.7 304.3 238.8 317.2 237.7 321.0 237.0 323.8 236.1 327.0 234.3 329.6 231.5 331.7 227.8 333.6 222.6 335.3 215.5 336.8 206.4 339.4 181.6 345.6 181.6" stroke="#a77bd6"/>
<path d="M345.6 204.9 343.9 220.6 342.8 227.4 341.7 232.2 340.3 236.2 339.0 238.9 337.3 241.1 335.5 242.6 331.9 244.1 326.6 245.0 283.4 248.9 277.8 249.7 275.3 250.4 273.3 251.6 271.2 253.2 266.5 257.6 265.0 258.6 263.7 259.0 262.4 258.9 260.9 258.3 255.4 254.3 252.6 253.0 250.9 252.7 249.1 252.7 244.9 253.6 242.1 255.0 239.7 257.0 237.6 259.7 235.9 262.9 234.4 266.9 232.9 272.3 231.6 278.8 230.3 287.2 214.3 287.2 219.2 287.2 219.4 286.4 221.1 260.6 223.1 238.8 225.2 225.1 226.1 221.5 227.3 219.4 227.6 219.2 228.2 219.2 229.1 220.2 232.5 227.2 233.8 229.2 235.2 230.1 236.3 229.9 237.6 228.5 238.9 225.9 243.0 214.1 244.5 210.6 245.9 208.8 246.6 208.4 247.4 208.5 249.2 209.2 251.5 211.0 261.1 221.8 266.7 227.0 269.7 229.1 272.9 231.1 276.1 232.6 279.7 234.0 284.4 235.3 289.4 236.3 295.1 237.0 301.5 237.4 310.1 237.5 318.6 237.3 324.2 236.7 328.1 235.9 331.5 234.3 334.3 231.7 336.6 228.1 338.5 223.3 340.3 215.9 341.8 207.2 343.2 196.6 344.5 182.3 344.7 181.6 345.6 181.6" stroke="#f59a6e"/>
<path d="M345.6 181.6 345.2 181.6 344.1 199.1 343.0 212.2 341.1 226.1 339.8 232.1 338.3 236.6 336.6 239.8 334.5 242.1 332.8 243.2 330.9 244.0 325.3 245.1 279.7 249.2 274.0 250.0 271.6 250.9 269.3 252.3 267.3 254.2 262.6 259.5 261.1 260.6 259.8 261.1 258.4 261.0 256.9 260.3 251.5 255.3 248.7 253.6 247.0 253.2 245.1 253.1 243.0 253.3 240.8 254.0 238.0 255.5 235.7 257.4 233.6 260.0 232.0 263.2 230.5 267.2 229.0 272.7 226.3 287.2 214.3 287.2 214.5 282.4 216.2 282.2 217.5 270.3 218.6 262.6 220.1 255.4 221.8 250.2 223.5 246.6 225.4 243.7 227.4 241.4 231.6 237.8 233.6 235.1 235.9 230.6 240.2 219.8 241.3 217.7 242.5 216.4 243.4 215.9 244.5 216.0 246.0 216.4 247.5 217.3 250.0 219.2 258.6 226.8 261.8 229.1 265.0 231.1 270.8 233.8 277.4 235.8 282.3 236.7 287.6 237.4 300.5 238.0 309.3 237.9 317.0 237.5 322.1 236.9 325.7 236.0 328.9 234.5 331.3 232.4 333.4 229.4 335.3 225.2 337.3 217.9 339.0 208.7 340.3 198.6 342.0 181.6 345.6 181.6" stroke="#d9576a"/>
<path d="M345.6 181.6 343.9 181.6 341.8 210.4 340.7 220.2 339.4 228.2 338.1 233.5 336.8 237.2 335.1 240.2 333.2 242.2 331.7 243.2 329.8 244.0 324.7 245.1 285.3 248.7 279.7 249.7 277.2 250.8 275.2 252.5 273.1 255.0 268.4 261.7 266.9 263.1 265.6 263.6 264.3 263.5 262.8 262.4 257.5 256.0 256.0 254.6 254.7 253.7 253.0 253.1 251.3 252.9 249.2 253.2 247.2 253.8 244.2 255.3 241.7 257.4 239.5 260.2 237.6 263.6 235.9 267.9 234.4 273.0 233.1 278.8 231.6 287.2 214.3 287.2 219.0 287.2 219.2 286.4 221.1 263.0 223.5 242.7 224.8 234.7 226.1 228.6 227.3 225.0 228.6 222.8 229.3 222.4 230.3 222.7 232.9 225.1 234.0 225.8 235.0 225.9 235.7 225.5 236.7 224.6 237.8 223.0 242.1 214.7 243.2 213.5 244.4 213.1 246.6 213.8 248.9 215.4 258.4 224.6 264.3 229.1 270.3 232.5 277.0 235.0 281.7 236.1 287.0 237.0 292.8 237.5 299.6 237.8 308.0 237.8 315.7 237.5 320.8 236.9 324.6 236.0 327.6 234.6 330.0 232.4 332.1 229.5 333.8 225.8 335.8 218.8 337.5 210.0 339.0 198.7 340.7 181.6 345.6 181.6" stroke="#a8cc72"/>
<path d="M345.6 196.4 343.9 215.5 342.8 223.8 341.7 229.7 340.3 234.5 339.0 237.7 337.3 240.4 335.3 242.4 331.9 244.0 326.6 245.0 286.6 248.6 281.0 249.4 278.5 250.3 276.5 251.5 274.4 253.2 269.7 257.9 268.2 258.9 266.9 259.3 265.6 259.2 264.3 258.6 258.1 253.7 256.2 252.7 254.3 252.1 251.3 251.9 247.2 252.2 242.3 253.0 238.7 254.0 235.7 255.4 233.3 257.4 231.2 260.0 229.3 263.5 227.8 267.5 226.3 272.9 223.7 287.2 214.3 287.2 217.7 287.2 219.2 272.2 220.5 262.7 222.0 255.4 223.9 249.7 225.0 247.3 226.5 244.9 231.2 239.5 233.1 236.9 235.0 233.6 238.9 225.7 240.0 224.0 241.2 222.7 242.1 222.2 243.0 222.2 244.5 222.4 246.2 223.0 248.9 224.5 257.9 230.5 264.8 233.8 271.0 235.8 277.8 237.2 283.4 237.8 289.6 238.2 305.4 238.2 320.8 237.3 325.1 236.7 328.3 235.7 331.3 234.1 333.8 231.8 335.8 228.4 337.7 223.7 339.6 216.5 341.1 208.0 342.6 195.9 343.9 181.6 345.6 181.6" stroke="#f2c47a"/>
<path d="M345.6 181.6 343.3 181.6 343.2 182.8 342.2 198.0 341.1 211.4 339.8 222.3 338.5 229.6 337.1 234.5 335.8 237.8 334.1 240.6 332.1 242.6 329.1 244.1 324.6 245.1 299.8 247.5 295.1 248.2 291.9 249.0 285.5 251.8 282.9 252.5 279.9 252.4 272.5 250.5 267.3 250.4 245.5 252.6 238.2 253.8 232.1 255.1 226.9 256.9 222.6 259.0 218.8 261.6 215.4 264.9 214.3 266.2 214.5 274.9 215.6 267.3 216.7 261.6 218.1 256.6 219.4 253.1 220.7 250.5 222.2 248.4 227.4 242.8 229.0 241.8 231.4 241.6 241.7 242.3 250.6 242.1 308.6 238.5 315.7 237.9 320.4 237.2 323.8 236.1 326.6 234.6 329.1 232.3 331.1 229.0 332.8 225.0 334.3 219.8 335.6 213.5 337.0 205.0 339.4 181.6 345.6 181.6" stroke="#6aa6d8"/>
<path d="M345.6 181.6 344.7 181.6 344.5 182.7 342.6 209.4 341.5 219.5 340.2 227.6 338.8 233.1 337.5 236.9 335.8 240.0 333.8 242.2 332.1 243.3 330.2 244.1 324.9 245.1 281.7 249.0 275.9 249.9 273.5 250.8 271.4 252.2 269.3 254.2 264.5 260.0 263.0 261.2 261.6 261.6 260.3 261.5 258.8 260.7 253.9 255.8 252.1 254.3 250.2 253.4 248.3 252.9 244.7 252.8 238.9 253.6 232.9 254.9 227.8 256.5 223.9 258.3 220.3 260.5 217.1 263.1 214.3 266.2 214.5 287.2 219.4 287.2 221.8 257.9 225.2 228.5 227.8 211.1 229.0 206.4 230.1 204.2 230.5 204.0 231.0 204.2 232.0 205.7 236.5 220.3 237.8 223.0 238.9 223.9 240.0 223.6 241.3 221.7 242.7 218.7 246.8 206.8 248.1 204.5 248.9 203.9 249.4 203.8 251.5 204.6 253.9 206.8 263.5 219.0 269.0 224.7 274.4 229.0 280.4 232.3 284.4 233.8 288.7 235.0 293.4 236.0 298.6 236.6 305.2 237.1 312.2 237.2 318.2 237.0 322.7 236.4 326.4 235.3 329.4 233.4 331.9 230.7 334.0 226.8 336.2 219.8 338.1 210.4 339.8 197.7 341.3 181.6 345.6 181.6" stroke="#6fdd6f"/>
<path d="M345.6 181.6 342.6 181.6 341.5 199.4 340.3 212.4 339.0 223.0 337.7 230.0 336.6 234.3 335.3 237.7 333.8 240.3 331.9 242.3 330.4 243.3 328.5 244.1 323.4 245.2 289.1 248.4 283.8 249.2 281.5 249.9 279.7 250.8 273.1 256.0 271.6 256.8 270.3 257.2 268.8 257.1 267.3 256.6 262.4 253.4 260.3 252.4 258.4 251.8 256.2 251.5 250.9 251.7 236.8 253.0 231.6 253.8 227.8 254.8 225.2 256.1 223.1 257.8 221.3 260.3 219.7 263.2 218.4 266.9 217.1 271.9 215.8 278.9 214.7 287.0 214.3 287.2 214.5 271.5 216.0 262.9 217.7 256.3 219.4 252.1 221.3 249.0 227.3 243.1 228.6 242.1 231.0 241.7 240.8 242.3 251.3 242.1 310.1 238.4 316.3 237.8 320.6 237.0 323.8 235.9 326.4 234.3 328.7 231.9 330.8 228.5 332.5 224.2 334.0 218.6 335.3 212.0 336.6 202.9 338.6 181.7 345.6 181.6" stroke="#c4c4c4"/>
<path d="M345.6 181.6 342.0 181.6 340.0 209.6 338.8 219.7 337.7 226.9 336.4 232.7 334.7 237.5 332.8 240.7 330.6 242.8 328.9 243.8 327.0 244.5 321.7 245.4 279.7 249.2 273.8 250.0 271.4 250.8 269.3 251.9 267.3 253.6 262.6 258.0 261.1 259.0 259.8 259.4 258.4 259.4 257.1 258.9 251.1 254.5 249.4 253.7 247.7 253.2 245.5 252.9 242.9 253.1 235.0 254.4 230.5 255.6 226.7 257.0 223.3 258.6 220.1 260.6 217.1 263.1 214.3 266.2 214.5 269.4 216.7 259.6 218.1 255.8 219.6 252.5 222.2 248.7 227.6 243.0 229.0 242.1 231.2 241.8 241.0 242.3 251.3 242.1 307.7 238.6 314.4 238.0 318.9 237.3 322.3 236.3 324.9 234.9 327.6 232.6 329.6 229.5 331.5 225.1 333.0 219.9 334.3 213.6 335.6 205.1 338.1 181.6 345.6 181.6" stroke="#4d4d4d"/>
<circle cx="231.6" cy="241.4" r="1.65" fill="#ff0000"/>
<circle cx="259.4" cy="259.9" r="1.65" fill="#0a1ee6"/>
<circle cx="230.3" cy="237.1" r="1.65" fill="#ff0000"/>
<circle cx="265.4" cy="265.4" r="1.65" fill="#0a1ee6"/>
<circle cx="235.5" cy="226.6" r="1.65" fill="#ff0000"/>
<circle cx="271.8" cy="257.1" r="1.65" fill="#0a1ee6"/>
<circle cx="227.8" cy="219.1" r="1.65" fill="#ff0000"/>
<circle cx="246.8" cy="208.4" r="1.65" fill="#ff0000"/>
<circle cx="263.1" cy="259.0" r="1.65" fill="#0a1ee6"/>
<circle cx="235.5" cy="231.4" r="1.65" fill="#ff0000"/>
<circle cx="243.6" cy="215.9" r="1.65" fill="#ff0000"/>
<circle cx="259.4" cy="261.1" r="1.65" fill="#0a1ee6"/>
<circle cx="229.5" cy="222.4" r="1.65" fill="#ff0000"/>
<circle cx="244.2" cy="213.1" r="1.65" fill="#ff0000"/>
<circle cx="265.2" cy="263.7" r="1.65" fill="#0a1ee6"/>
<circle cx="235.5" cy="232.5" r="1.65" fill="#ff0000"/>
<circle cx="266.5" cy="259.3" r="1.65" fill="#0a1ee6"/>
<circle cx="230.8" cy="241.6" r="1.65" fill="#ff0000"/>
<circle cx="281.7" cy="252.6" r="1.65" fill="#0a1ee6"/>
<circle cx="230.6" cy="204.0" r="1.65" fill="#ff0000"/>
<circle cx="249.2" cy="203.8" r="1.65" fill="#ff0000"/>
<circle cx="261.3" cy="261.6" r="1.65" fill="#0a1ee6"/>
<circle cx="231.0" cy="241.7" r="1.65" fill="#ff0000"/>
<circle cx="269.7" cy="257.2" r="1.65" fill="#0a1ee6"/>
<circle cx="231.2" cy="241.8" r="1.65" fill="#ff0000"/>
<circle cx="259.2" cy="259.4" r="1.65" fill="#0a1ee6"/>
</g>
<path d="M214.30 186.40 V282.40 H345.60" fill="none" stroke="#a6a6a6" stroke-width="0.9"/>
<text transform="translate(214.30,295.06) scale(1,1.25)" font-size="8.56" text-anchor="middle" fill="#262626" class="t">-1</text>
<text transform="translate(247.12,295.06) scale(1,1.25)" font-size="8.56" text-anchor="middle" fill="#262626" class="t">-0.5</text>
<text transform="translate(279.95,295.06) scale(1,1.25)" font-size="8.56" text-anchor="middle" fill="#262626" class="t">0</text>
<text transform="translate(312.78,295.06) scale(1,1.25)" font-size="8.56" text-anchor="middle" fill="#262626" class="t">0.5</text>
<text transform="translate(345.60,295.06) scale(1,1.25)" font-size="8.56" text-anchor="middle" fill="#262626" class="t">1</text>
<text transform="translate(211.50,274.23) scale(1,1.25)" font-size="8.56" text-anchor="end" fill="#262626" class="t">-200</text>
<text transform="translate(211.50,250.23) scale(1,1.25)" font-size="8.56" text-anchor="end" fill="#262626" class="t">0</text>
<text transform="translate(211.50,226.23) scale(1,1.25)" font-size="8.56" text-anchor="end" fill="#262626" class="t">200</text>
<text transform="translate(211.50,202.23) scale(1,1.25)" font-size="8.56" text-anchor="end" fill="#262626" class="t">400</text>
<text transform="translate(279.95,308.29) scale(1,1.12)" font-size="10.06" text-anchor="middle" fill="#262626" class="t">Voltage (V)</text>
<text transform="translate(190.90,234.00) rotate(-90) scale(1,1.12)" font-size="10.27" text-anchor="middle" fill="#262626" class="t">Current (μA)</text>
<text x="196.00" y="182.50" font-size="10.91" fill="#262626" stroke="#262626" stroke-width="0.3">d)</text>
<path d="M437.4 186.0V282.6M469.7 186.0V282.6M502.0 186.0V282.6M534.2 186.0V282.6M405.2 250.4H534.2M405.2 218.2H534.2M405.2 186.0H534.2" stroke="#efefef" stroke-width="0.6" fill="none"/>
<g clip-path="url(#clipe)" fill="none" stroke-width="0.95" stroke-linejoin="round" opacity="1.0">
<path d="M534.2 249.1 529.8 250.8 523.5 251.7 512.6 252.4 467.6 254.1 462.2 254.8 454.1 256.7 450.8 257.2 447.3 257.1 439.7 255.8 435.1 255.4 426.8 255.5 417.4 256.0 413.0 256.7 409.8 257.8 407.2 259.6 405.2 262.1 405.4 287.4 406.5 287.4 408.7 268.9 410.0 262.3 411.3 257.8 412.8 254.4 414.6 251.7 419.0 247.3 421.3 245.7 424.0 245.5 436.0 246.8 448.0 247.1 467.6 246.6 507.8 244.9 518.1 244.3 525.0 243.4 530.1 242.1 534.2 240.1" stroke="#f24a4a"/>
<path d="M534.2 249.1 532.0 250.1 529.6 250.8 523.1 251.8 512.2 252.4 467.6 254.1 462.0 254.7 454.1 256.4 451.0 256.8 447.5 256.8 439.3 255.6 434.4 255.3 423.1 255.6 416.6 256.3 414.2 257.0 412.4 258.0 410.7 259.4 409.4 261.2 408.2 263.7 407.0 266.9 405.2 275.2 405.4 287.4 406.1 287.4 408.2 270.1 409.3 263.9 410.6 258.9 412.0 255.0 414.1 251.5 416.5 248.7 418.5 247.5 421.4 247.2 433.6 247.6 446.9 247.4 513.5 244.6 521.1 244.0 526.4 243.1 530.7 241.9 534.2 240.1" stroke="#79d6f2"/>
<path d="M534.2 249.1 529.8 250.8 523.3 251.8 513.3 252.4 476.1 253.8 470.9 254.4 460.2 256.2 456.7 256.2 448.0 255.2 442.1 255.0 429.0 255.5 425.5 255.9 422.9 256.4 420.5 257.5 418.5 259.1 416.8 261.5 415.5 264.3 414.2 268.6 413.1 273.8 411.3 287.4 405.2 287.4 406.9 287.4 408.2 275.3 409.3 267.6 410.6 261.4 412.2 256.3 413.7 253.5 415.5 251.4 417.6 250.0 422.4 248.0 423.5 247.0 424.6 245.5 425.7 243.3 426.8 240.3 430.7 226.8 431.6 224.8 432.3 224.0 433.8 224.1 435.7 225.3 444.3 234.4 447.3 236.9 450.4 239.0 453.7 240.8 457.4 242.3 461.3 243.4 465.7 244.2 473.7 245.1 483.6 245.4 498.2 245.2 513.7 244.6 521.1 243.9 526.4 243.1 530.7 241.8 534.2 240.1" stroke="#a77bd6"/>
<path d="M534.2 249.1 529.8 250.8 523.3 251.8 513.3 252.4 476.1 253.8 470.9 254.4 460.2 256.2 456.7 256.2 448.0 255.2 442.5 255.0 432.3 255.4 426.8 256.3 424.4 257.3 422.4 259.0 420.7 261.3 419.4 264.2 418.1 268.4 417.0 273.7 415.2 287.4 405.2 287.4 405.8 287.4 407.4 272.3 409.1 262.7 410.9 256.3 413.5 250.9 421.6 239.1 423.3 237.3 424.8 236.3 426.2 236.0 428.1 236.3 430.1 237.3 435.3 240.8 436.4 241.1 437.3 240.7 438.0 239.7 438.8 238.0 441.2 229.0 442.1 227.2 442.8 227.4 444.3 228.3 449.5 232.4 452.8 234.7 458.9 237.9 463.0 239.5 467.4 240.8 472.2 241.9 477.4 242.8 485.5 243.6 494.7 244.1 505.8 244.2 515.9 244.0 522.2 243.5 527.0 242.7 530.9 241.6 534.2 239.9" stroke="#f59a6e"/>
<path d="M534.2 249.1 529.8 250.8 523.5 251.7 514.3 252.3 483.3 253.6 478.5 254.0 468.1 255.6 464.6 255.6 455.6 254.8 449.3 254.7 436.6 255.2 433.3 255.6 430.7 256.2 428.3 257.2 426.2 258.9 424.6 261.2 423.3 264.0 422.0 268.3 420.9 273.5 419.0 287.4 405.2 287.4 406.5 287.4 406.7 286.5 408.3 271.2 410.2 261.2 411.8 255.7 413.9 251.6 416.5 248.1 424.6 239.4 427.2 237.0 429.2 235.8 431.0 235.4 433.1 235.7 435.1 236.8 439.5 240.0 440.4 240.3 441.2 240.0 441.9 239.0 442.7 237.0 445.2 224.5 445.8 222.6 446.4 221.8 448.4 223.0 453.7 227.8 456.9 230.3 463.1 234.2 467.4 236.3 471.8 237.9 476.6 239.4 481.8 240.6 489.2 241.8 497.5 242.7 506.7 243.2 515.7 243.3 522.0 242.9 526.8 242.3 530.9 241.2 534.2 239.6" stroke="#d9576a"/>
<path d="M534.2 249.1 529.8 250.8 523.5 251.7 512.6 252.4 467.6 254.1 462.0 254.8 454.1 256.7 451.0 257.2 447.5 257.1 438.2 255.8 435.3 255.8 432.9 256.3 430.5 257.4 428.6 259.0 427.0 261.5 425.7 264.5 424.6 268.2 423.5 273.4 421.6 287.2 421.4 287.4 405.2 287.4 406.9 287.4 408.2 275.3 409.3 267.6 410.7 260.7 412.4 255.9 413.9 253.2 415.7 251.2 417.7 249.9 423.7 247.4 425.5 245.8 427.0 243.8 428.6 240.6 430.1 236.8 435.8 218.2 437.3 215.2 438.6 214.1 439.5 214.1 440.4 214.6 444.3 219.2 445.2 219.9 446.2 220.2 447.1 219.9 448.0 219.2 451.7 214.6 452.6 214.2 453.4 214.3 464.3 224.8 467.8 227.7 471.5 230.3 475.9 232.9 480.5 235.1 485.5 237.1 490.8 238.7 497.1 240.1 503.7 241.1 510.9 241.8 517.8 242.1 523.1 242.0 527.6 241.4 531.1 240.5 534.2 239.0" stroke="#a8cc72"/>
<path d="M534.2 246.5 532.2 248.7 529.8 250.2 526.6 251.2 522.4 251.9 514.1 252.4 473.7 253.9 468.5 254.5 460.4 256.2 457.1 256.6 453.7 256.5 446.7 255.5 443.0 255.3 438.8 255.4 435.5 256.1 433.1 257.3 431.2 258.9 429.6 261.4 428.3 264.4 427.2 268.1 426.1 273.3 424.0 287.4 405.2 287.4 406.9 287.4 408.2 275.3 409.4 266.5 410.9 259.9 412.8 254.9 414.1 252.7 415.5 250.9 422.7 245.4 424.8 243.3 426.6 240.8 428.5 237.7 430.5 233.6 436.8 218.5 439.0 213.8 441.4 210.1 442.5 209.0 443.8 208.3 444.7 208.2 445.6 208.7 449.5 213.3 450.4 214.0 451.2 214.3 452.1 214.1 453.0 213.4 456.5 209.2 457.4 208.7 458.2 208.8 469.8 221.0 473.7 224.6 477.5 227.6 482.0 230.6 486.8 233.2 491.8 235.5 496.9 237.3 503.0 238.9 509.7 240.2 516.1 241.0 521.8 241.2 525.9 240.8 529.2 240.0 532.0 238.5 534.2 236.6" stroke="#f2c47a"/>
<path d="M534.2 245.2 532.2 247.9 529.6 249.9 526.4 251.1 522.2 251.8 514.6 252.3 483.3 253.6 478.7 254.1 470.7 255.6 467.4 256.0 464.3 255.9 456.0 254.9 450.8 254.7 442.5 255.1 437.5 256.0 435.1 257.1 433.3 258.7 431.6 261.1 430.3 264.0 429.2 267.6 428.1 272.7 426.1 287.4 405.2 287.4 407.4 287.4 408.7 275.4 409.8 267.6 411.3 260.6 413.0 255.6 414.1 253.3 415.4 251.4 417.0 249.6 422.9 244.0 424.9 241.3 427.0 237.8 429.0 233.5 431.0 228.2 437.7 207.7 440.1 201.2 442.7 196.2 444.0 194.7 445.2 193.8 446.2 193.8 447.1 194.7 451.2 202.9 452.1 204.2 453.0 204.9 453.9 204.9 455.0 204.2 458.9 199.3 459.8 198.8 460.7 199.1 466.1 205.2 476.4 218.6 481.8 224.5 485.5 227.9 489.2 230.8 493.0 233.3 497.3 235.6 503.0 237.9 509.1 239.6 515.6 240.7 521.3 241.1 525.5 240.8 528.8 239.8 531.8 238.0 534.2 235.5" stroke="#6aa6d8"/>
<path d="M534.2 238.8 532.7 244.5 531.8 246.7 530.7 248.5 529.6 249.7 528.3 250.6 526.6 251.3 524.6 251.7 517.8 252.2 476.1 253.8 471.1 254.3 463.0 255.9 459.6 256.2 456.0 256.1 447.1 255.1 440.8 255.0 424.0 255.7 420.3 256.1 417.6 256.9 415.5 257.9 413.9 259.4 412.6 261.2 411.3 263.8 410.0 267.7 408.9 272.5 407.8 279.3 406.9 287.1 406.7 287.4 405.2 287.4 407.2 270.3 408.3 264.1 409.4 259.6 410.7 256.0 412.4 253.0 414.4 250.7 416.5 249.4 419.0 248.6 422.9 248.3 510.4 244.9 522.8 244.0 525.2 243.5 527.0 242.9 528.7 241.9 530.0 240.7 531.2 238.9 532.4 236.8 534.2 231.1" stroke="#6fdd6f"/>
<path d="M534.2 235.6 532.7 242.7 531.8 245.4 530.7 247.7 529.6 249.2 528.3 250.3 526.6 251.1 524.6 251.6 517.0 252.3 467.4 254.1 462.2 254.6 453.9 255.9 450.4 256.2 446.9 256.2 437.3 255.3 428.8 255.4 423.1 255.9 419.4 256.8 417.2 258.1 415.5 259.7 414.1 261.9 412.8 265.0 411.7 268.7 410.6 273.9 408.7 287.4 405.2 287.4 406.1 287.4 406.3 286.5 407.8 272.7 409.4 263.1 411.1 257.2 413.0 253.3 414.2 251.6 415.7 250.1 427.7 240.3 430.3 239.2 431.6 239.1 434.0 239.4 435.1 239.0 436.2 237.4 438.2 232.9 439.0 232.0 439.7 232.2 446.0 236.6 450.4 238.8 456.9 241.0 464.6 242.6 474.0 243.8 485.1 244.4 499.3 244.6 514.1 244.3 519.3 243.9 522.8 243.3 525.5 242.4 527.7 241.0 529.8 238.8 531.4 236.0 532.9 232.3 534.2 227.7" stroke="#c4c4c4"/>
<path d="M534.2 227.2 532.7 237.9 531.8 242.1 530.7 245.5 529.6 247.8 528.1 249.6 526.4 250.7 524.4 251.5 521.5 252.0 517.0 252.3 472.9 253.9 457.1 255.7 441.2 255.0 420.5 255.8 415.2 256.3 411.1 257.0 407.8 258.1 405.2 259.5 405.4 274.9 407.4 264.3 408.5 260.4 409.8 257.1 411.5 254.1 413.9 250.9 416.5 248.0 418.1 247.0 420.9 246.7 428.6 247.4 434.9 247.6 453.0 247.2 507.3 244.9 515.0 244.3 520.0 243.2 522.8 242.1 525.0 240.7 527.0 238.7 528.7 236.4 530.1 233.5 531.6 229.7 532.9 225.3 534.2 219.5" stroke="#4d4d4d"/>
<circle cx="423.5" cy="245.5" r="1.65" fill="#ff0000"/>
<circle cx="449.7" cy="257.2" r="1.65" fill="#0a1ee6"/>
<circle cx="421.6" cy="247.2" r="1.65" fill="#ff0000"/>
<circle cx="432.7" cy="223.9" r="1.65" fill="#ff0000"/>
<circle cx="458.5" cy="256.2" r="1.65" fill="#0a1ee6"/>
<circle cx="426.2" cy="236.0" r="1.65" fill="#ff0000"/>
<circle cx="442.3" cy="227.2" r="1.65" fill="#ff0000"/>
<circle cx="431.2" cy="235.4" r="1.65" fill="#ff0000"/>
<circle cx="446.4" cy="221.8" r="1.65" fill="#ff0000"/>
<circle cx="466.1" cy="255.7" r="1.65" fill="#0a1ee6"/>
<circle cx="439.0" cy="214.0" r="1.65" fill="#ff0000"/>
<circle cx="452.8" cy="214.1" r="1.65" fill="#ff0000"/>
<circle cx="444.3" cy="208.2" r="1.65" fill="#ff0000"/>
<circle cx="457.6" cy="208.7" r="1.65" fill="#ff0000"/>
<circle cx="445.6" cy="193.7" r="1.65" fill="#ff0000"/>
<circle cx="460.0" cy="198.8" r="1.65" fill="#ff0000"/>
<circle cx="466.3" cy="256.0" r="1.65" fill="#0a1ee6"/>
<circle cx="423.1" cy="248.3" r="1.65" fill="#ff0000"/>
<circle cx="431.2" cy="239.1" r="1.65" fill="#ff0000"/>
<circle cx="439.2" cy="232.0" r="1.65" fill="#ff0000"/>
<circle cx="449.3" cy="256.2" r="1.65" fill="#0a1ee6"/>
<circle cx="420.3" cy="246.7" r="1.65" fill="#ff0000"/>
</g>
<path d="M405.20 186.00 V282.60 H534.20" fill="none" stroke="#a6a6a6" stroke-width="0.9"/>
<text transform="translate(405.20,295.26) scale(1,1.25)" font-size="8.56" text-anchor="middle" fill="#262626" class="t">-1</text>
<text transform="translate(437.45,295.26) scale(1,1.25)" font-size="8.56" text-anchor="middle" fill="#262626" class="t">-0.5</text>
<text transform="translate(469.70,295.26) scale(1,1.25)" font-size="8.56" text-anchor="middle" fill="#262626" class="t">0</text>
<text transform="translate(501.95,295.26) scale(1,1.25)" font-size="8.56" text-anchor="middle" fill="#262626" class="t">0.5</text>
<text transform="translate(534.20,295.26) scale(1,1.25)" font-size="8.56" text-anchor="middle" fill="#262626" class="t">1</text>
<text transform="translate(402.40,286.43) scale(1,1.25)" font-size="8.56" text-anchor="end" fill="#262626" class="t">-500</text>
<text transform="translate(402.40,254.23) scale(1,1.25)" font-size="8.56" text-anchor="end" fill="#262626" class="t">0</text>
<text transform="translate(402.40,222.03) scale(1,1.25)" font-size="8.56" text-anchor="end" fill="#262626" class="t">500</text>
<text transform="translate(402.40,189.83) scale(1,1.25)" font-size="8.56" text-anchor="end" fill="#262626" class="t">1000</text>
<text transform="translate(469.70,308.49) scale(1,1.12)" font-size="10.06" text-anchor="middle" fill="#262626" class="t">Voltage (V)</text>
<text transform="translate(379.20,233.90) rotate(-90) scale(1,1.12)" font-size="10.27" text-anchor="middle" fill="#262626" class="t">Current (μA)</text>
<text x="363.00" y="182.00" font-size="10.91" fill="#262626" stroke="#262626" stroke-width="0.3">e)</text>
<rect x="247.6" y="125.7" width="99.0" height="74.2" fill="#fff"/>
<path d="M285.6 130.7V185.4M303.6 130.7V185.4M321.6 130.7V185.4M339.6 130.7V185.4M267.6 167.2H339.6M267.6 148.9H339.6M267.6 130.7H339.6" stroke="#efefef" stroke-width="0.4" fill="none"/>
<g clip-path="url(#clipi1)" fill="none" stroke-width="0.55" stroke-linejoin="round" opacity="1.0">
<path d="M339.6 156.2 338.6 160.3 337.3 162.9 335.8 164.4 333.6 165.3 329.5 165.8 312.8 166.8 304.5 167.9 296.5 167.6 290.2 167.9 287.0 168.2 284.9 168.8 283.7 169.6 282.7 170.6 281.2 174.0 280.0 179.7 278.9 188.1 267.6 188.1 272.2 188.1 272.3 187.9 274.0 160.2 274.6 152.8 275.1 149.6 275.5 148.8 276.0 148.7 278.4 151.9 279.0 152.1 279.5 151.8 280.7 149.1 282.6 141.4 283.5 139.7 284.0 139.9 285.1 140.9 290.8 148.8 294.9 153.0 297.3 154.8 299.8 156.3 302.6 157.5 305.7 158.4 310.7 159.4 316.6 160.0 323.8 160.1 329.8 159.7 333.2 159.1 335.8 158.0 337.8 156.5 339.6 154.3" stroke="#f7c98e"/>
<path d="M339.6 156.2 338.6 160.3 337.3 162.9 335.8 164.4 333.6 165.3 329.5 165.8 312.8 166.8 304.5 167.9 296.8 167.6 291.1 167.8 288.0 168.2 286.0 168.8 284.8 169.5 283.9 170.5 282.3 173.8 281.1 179.3 280.0 188.1 267.6 188.1 271.9 188.1 273.8 156.5 274.3 150.3 274.8 147.2 275.3 146.5 275.8 146.7 278.8 153.2 279.7 154.2 280.1 154.3 280.5 154.1 281.1 153.2 281.7 151.4 284.0 140.7 284.5 139.0 285.0 138.2 285.8 138.5 286.9 139.5 292.5 147.8 296.5 152.2 298.9 154.1 301.4 155.7 304.1 156.9 307.1 158.0 311.8 159.1 317.4 159.7 324.0 159.9 329.8 159.6 333.1 159.0 335.7 158.0 337.8 156.4 339.6 154.3" stroke="#f4b27c"/>
<path d="M339.6 156.2 338.6 160.3 337.3 162.9 335.8 164.4 333.6 165.3 329.5 165.8 312.8 166.8 304.5 167.9 297.0 167.6 292.3 167.8 289.4 168.1 287.5 168.7 286.2 169.4 285.3 170.4 283.8 173.7 282.5 179.2 281.4 188.1 267.6 188.1 271.6 188.1 271.7 187.6 272.4 177.8 274.3 160.7 275.8 138.9 276.3 135.5 276.6 134.7 277.1 135.2 277.6 136.6 280.5 148.1 281.2 149.8 281.9 150.5 282.6 150.0 283.3 148.5 285.7 136.3 286.2 134.6 286.8 134.0 288.4 135.6 294.0 144.8 298.0 149.8 300.4 152.1 302.8 153.9 305.5 155.5 308.4 156.8 312.9 158.1 318.1 159.0 324.1 159.5 329.6 159.4 333.0 158.8 335.7 157.8 337.8 156.3 339.6 154.1" stroke="#9ed88a"/>
<circle cx="275.8" cy="148.6" r="1.15" fill="#ff0000"/>
<circle cx="283.7" cy="139.7" r="1.15" fill="#ff0000"/>
<circle cx="275.4" cy="146.5" r="1.15" fill="#ff0000"/>
<circle cx="285.1" cy="138.1" r="1.15" fill="#ff0000"/>
<circle cx="276.7" cy="134.7" r="1.15" fill="#ff0000"/>
<circle cx="286.8" cy="134.0" r="1.15" fill="#ff0000"/>
<circle cx="303.2" cy="167.9" r="1.15" fill="#0a1ee6"/>
</g>
<path d="M267.60 130.70 V185.40 H339.60" fill="none" stroke="#a6a6a6" stroke-width="0.5"/>
<text transform="translate(267.60,192.10) scale(1,1.2)" font-size="4.6" text-anchor="middle" fill="#444">-1</text>
<text transform="translate(285.60,192.10) scale(1,1.2)" font-size="4.6" text-anchor="middle" fill="#444">-0.5</text>
<text transform="translate(303.60,192.10) scale(1,1.2)" font-size="4.6" text-anchor="middle" fill="#444">0</text>
<text transform="translate(321.60,192.10) scale(1,1.2)" font-size="4.6" text-anchor="middle" fill="#444">0.5</text>
<text transform="translate(339.60,192.10) scale(1,1.2)" font-size="4.6" text-anchor="middle" fill="#444">1</text>
<text transform="translate(266.40,187.40) scale(1,1.2)" font-size="4.6" text-anchor="end" fill="#444">-200</text>
<text transform="translate(266.40,169.17) scale(1,1.2)" font-size="4.6" text-anchor="end" fill="#444">0</text>
<text transform="translate(266.40,150.93) scale(1,1.2)" font-size="4.6" text-anchor="end" fill="#444">200</text>
<text transform="translate(266.40,132.70) scale(1,1.2)" font-size="4.6" text-anchor="end" fill="#444">400</text>
<text x="303.60" y="198.60" font-size="5.3" text-anchor="middle" fill="#333">Voltaje (V)</text>
<text transform="translate(255.20,158.05) rotate(-90)" font-size="5.2" text-anchor="middle" fill="#333">Current (μA)</text>
<rect x="455.5" y="124.2" width="95.3" height="73.3" fill="#fff"/>
<path d="M492.6 129.2V183.5M509.6 129.2V183.5M526.7 129.2V183.5M543.8 129.2V183.5M475.5 169.9H543.8M475.5 156.3H543.8M475.5 142.8H543.8M475.5 129.2H543.8" stroke="#efefef" stroke-width="0.4" fill="none"/>
<g clip-path="url(#clipi2)" fill="none" stroke-width="0.5" stroke-linejoin="round" opacity="0.6">
<path d="M543.8 155.0 508.9 156.1 505.8 156.4 499.5 157.5 491.9 156.8 489.5 156.9 487.7 157.2 485.6 158.4 482.4 161.7 479.5 164.0 478.3 165.2 477.5 166.9 476.8 168.8 475.5 175.2 475.6 186.2 477.6 186.2 478.8 171.7 480.1 163.2 481.0 160.0 482.0 157.5 483.3 155.6 484.6 154.7 486.3 154.5 493.5 154.9 501.1 154.9 543.8 153.6" stroke="#f24a4a"/>
<path d="M543.8 155.0 508.9 156.1 499.4 157.4 491.5 156.8 488.6 157.4 487.0 158.5 483.8 161.9 480.5 164.3 478.9 166.6 478.0 169.1 477.3 172.6 476.5 178.2 475.8 185.7 475.7 186.2 475.5 186.2 479.4 186.2 480.5 171.8 481.7 163.2 482.3 160.3 483.1 158.3 484.1 156.8 485.4 155.9 486.8 155.4 489.1 155.2 543.8 153.6" stroke="#79d6f2"/>
<path d="M543.8 155.0 513.5 156.0 504.2 157.1 496.6 156.7 493.7 157.3 492.2 158.3 488.7 161.7 487.2 162.4 482.9 163.7 481.8 164.5 480.8 165.7 479.6 168.4 478.6 172.6 477.1 186.2 475.5 186.2 481.1 186.2 482.2 171.6 483.5 163.1 484.4 159.8 486.6 154.0 488.7 147.5 489.3 146.1 489.9 145.4 490.6 145.4 491.6 145.8 496.2 149.6 499.2 151.5 502.6 152.8 506.5 153.6 511.4 154.1 517.9 154.2 543.8 153.6" stroke="#a77bd6"/>
<path d="M543.8 155.0 514.0 156.0 504.8 157.0 498.0 156.7 495.3 157.3 494.0 158.2 491.4 160.8 490.2 161.8 488.6 162.5 483.9 163.5 482.6 164.3 481.7 165.4 480.4 168.1 479.4 172.0 478.6 177.3 477.7 186.2 475.5 186.2 482.6 186.2 484.1 166.2 485.0 159.6 486.0 155.3 486.9 153.0 488.1 152.0 489.4 151.9 491.8 152.6 492.6 152.3 493.3 151.2 494.6 147.4 495.0 146.6 496.0 146.9 500.0 149.4 503.2 150.8 507.1 152.0 511.6 152.9 517.0 153.4 523.8 153.7 543.8 153.6" stroke="#f59a6e"/>
<path d="M543.8 155.0 517.4 155.9 508.3 156.8 500.3 156.5 498.5 156.7 497.1 157.2 495.7 158.1 493.1 160.8 491.7 161.8 490.1 162.4 484.9 163.4 483.5 164.1 482.4 165.2 481.2 167.8 480.1 172.0 479.3 177.3 478.4 186.2 475.5 186.2 483.4 186.1 484.9 166.2 485.9 159.4 486.9 155.0 488.1 152.3 488.8 151.5 489.6 150.9 491.1 150.9 494.0 152.1 494.7 151.8 495.4 150.5 496.7 145.4 497.3 144.3 498.5 144.9 502.7 147.8 505.5 149.2 509.5 150.7 514.1 151.9 519.6 152.7 526.0 153.2 543.8 153.4" stroke="#d9576a"/>
<path d="M543.8 155.0 511.0 156.0 505.8 156.4 501.7 157.3 498.7 158.2 497.2 159.1 494.6 161.4 493.1 162.2 487.0 163.0 485.1 163.6 483.9 164.3 482.9 165.5 482.0 167.2 481.4 169.3 480.2 175.7 479.1 186.2 475.5 186.2 484.5 186.2 485.7 170.7 487.1 160.2 488.6 153.7 490.7 146.0 492.0 142.6 493.1 141.3 494.2 141.4 496.2 143.2 497.2 143.6 498.2 143.2 500.1 141.3 501.0 141.1 506.6 145.4 510.1 147.6 514.5 149.6 519.6 151.1 524.4 152.0 529.8 152.7 543.8 153.2" stroke="#a8cc72"/>
<path d="M543.8 155.0 513.9 156.0 508.7 156.4 500.2 157.9 498.9 158.7 496.0 161.3 494.4 162.1 487.8 163.0 485.8 163.5 484.6 164.3 483.6 165.4 482.7 167.2 482.0 169.3 480.9 175.7 479.8 186.2 475.5 186.2 485.5 186.2 486.7 167.9 487.6 160.5 488.6 155.0 490.1 149.3 492.0 144.0 493.9 140.5 494.7 139.4 495.6 138.8 496.2 138.6 496.8 138.7 499.0 140.7 499.9 141.1 500.8 140.8 502.7 139.0 503.5 138.8 509.3 143.7 513.0 146.3 517.4 148.6 522.2 150.3 526.6 151.4 531.5 152.2 543.8 153.0" stroke="#f2c47a"/>
<path d="M543.8 155.0 518.1 155.8 508.9 156.9 503.2 156.9 501.1 157.8 498.0 160.9 496.2 162.0 494.2 162.4 488.5 162.9 486.4 163.5 485.3 164.3 484.3 165.4 483.4 167.2 482.7 169.3 481.6 175.6 480.5 186.2 475.5 186.2 486.1 186.2 487.5 164.8 488.4 157.4 489.5 151.0 491.1 144.0 493.1 138.0 494.8 134.3 495.7 133.2 496.6 132.6 497.1 132.5 497.7 132.9 499.8 136.3 500.9 137.2 501.9 136.9 503.9 134.8 504.9 134.7 515.6 145.0 519.1 147.6 522.8 149.5 526.9 151.0 531.6 152.0 537.1 152.7 543.8 153.0" stroke="#6aa6d8"/>
<path d="M543.8 155.0 513.5 156.0 504.2 157.1 495.4 156.6 489.3 156.8 486.4 157.1 485.0 157.6 483.8 158.5 478.0 164.6 476.6 167.3 475.5 171.2 475.6 186.2 476.7 186.2 477.7 172.2 478.9 164.0 479.7 160.9 480.6 158.6 481.6 157.2 482.8 156.2 484.7 155.7 487.8 155.4 543.8 153.6" stroke="#6fdd6f"/>
<path d="M543.8 155.0 508.9 156.1 499.8 157.1 493.9 157.0 491.8 157.5 490.4 158.4 487.1 161.7 485.9 162.4 481.9 163.8 480.9 164.7 480.0 165.9 478.8 168.7 477.9 172.6 476.4 186.2 475.5 186.2 480.1 186.2 480.9 174.9 481.9 166.2 482.9 160.6 484.4 156.5 485.7 154.3 487.0 152.8 488.7 151.8 490.7 151.8 491.3 151.6 493.4 148.6 497.3 150.6 500.1 151.7 504.2 152.6 509.3 153.3 522.3 153.9 543.8 153.6" stroke="#c4c4c4"/>
<path d="M543.8 155.0 512.3 156.0 503.7 156.8 498.1 157.0 496.0 157.9 492.8 161.1 490.9 162.2 488.6 162.6 481.1 163.1 478.5 163.8 476.8 165.2 475.5 167.6 475.6 186.2 476.0 186.2 477.1 172.3 478.2 164.0 479.0 160.9 480.0 158.3 481.2 156.3 482.3 155.3 484.0 154.9 495.8 155.1 543.8 153.6" stroke="#4d4d4d"/>
<circle cx="486.2" cy="154.5" r="0.95" fill="#ff0000"/>
<circle cx="485.7" cy="155.8" r="0.95" fill="#ff0000"/>
<circle cx="490.3" cy="145.3" r="0.95" fill="#ff0000"/>
<circle cx="488.1" cy="152.0" r="0.95" fill="#ff0000"/>
<circle cx="495.1" cy="146.6" r="0.95" fill="#ff0000"/>
<circle cx="490.4" cy="150.8" r="0.95" fill="#ff0000"/>
<circle cx="497.3" cy="144.3" r="0.95" fill="#ff0000"/>
<circle cx="493.5" cy="141.2" r="0.95" fill="#ff0000"/>
<circle cx="500.7" cy="141.1" r="0.95" fill="#ff0000"/>
<circle cx="496.2" cy="138.6" r="0.95" fill="#ff0000"/>
<circle cx="503.2" cy="138.8" r="0.95" fill="#ff0000"/>
<circle cx="496.9" cy="132.5" r="0.95" fill="#ff0000"/>
<circle cx="504.5" cy="134.6" r="0.95" fill="#ff0000"/>
<circle cx="485.0" cy="155.6" r="0.95" fill="#ff0000"/>
<circle cx="489.5" cy="151.7" r="0.95" fill="#ff0000"/>
<circle cx="493.5" cy="148.6" r="0.95" fill="#ff0000"/>
<circle cx="484.3" cy="154.9" r="0.95" fill="#ff0000"/>
</g>
<path d="M475.50 129.20 V183.50 H543.80" fill="none" stroke="#a6a6a6" stroke-width="0.5"/>
<text transform="translate(475.50,189.40) scale(1,1.2)" font-size="4.6" text-anchor="middle" fill="#444">-1</text>
<text transform="translate(492.57,189.40) scale(1,1.2)" font-size="4.6" text-anchor="middle" fill="#444">-0.5</text>
<text transform="translate(509.65,189.40) scale(1,1.2)" font-size="4.6" text-anchor="middle" fill="#444">0</text>
<text transform="translate(526.72,189.40) scale(1,1.2)" font-size="4.6" text-anchor="middle" fill="#444">0.5</text>
<text transform="translate(543.80,189.40) scale(1,1.2)" font-size="4.6" text-anchor="middle" fill="#444">1</text>
<text transform="translate(474.30,185.50) scale(1,1.2)" font-size="4.6" text-anchor="end" fill="#444">-1000</text>
<text transform="translate(474.30,171.93) scale(1,1.2)" font-size="4.6" text-anchor="end" fill="#444">-500</text>
<text transform="translate(474.30,158.35) scale(1,1.2)" font-size="4.6" text-anchor="end" fill="#444">0</text>
<text transform="translate(474.30,144.77) scale(1,1.2)" font-size="4.6" text-anchor="end" fill="#444">500</text>
<text transform="translate(474.30,131.20) scale(1,1.2)" font-size="4.6" text-anchor="end" fill="#444">1000</text>
<text x="509.65" y="196.20" font-size="5.3" text-anchor="middle" fill="#333">Voltaje (V)</text>
<text transform="translate(460.00,156.35) rotate(-90)" font-size="5.2" text-anchor="middle" fill="#333">Current (μA)</text>
<text x="501.0" y="9.3" font-size="7.0" font-weight="bold" fill="#262626">t<tspan font-size="5.2" dy="2.6">m</tspan></text>
<line x1="484" y1="14" x2="524" y2="14" stroke="#d0d0d0" stroke-width="0.6"/>
<line x1="484.6" y1="19.30" x2="495.2" y2="19.30" stroke="#f24a4a" stroke-width="0.9"/>
<text x="496.6" y="21.70" font-size="6.5" fill="#262626" class="t">0 seg</text>
<line x1="484.6" y1="27.60" x2="495.2" y2="27.60" stroke="#79d6f2" stroke-width="0.9"/>
<text x="496.6" y="30.00" font-size="6.5" fill="#262626" class="t">30 seg</text>
<line x1="484.6" y1="35.90" x2="495.2" y2="35.90" stroke="#a77bd6" stroke-width="0.9"/>
<text x="496.6" y="38.30" font-size="6.5" fill="#262626" class="t">60 seg</text>
<line x1="484.6" y1="44.20" x2="495.2" y2="44.20" stroke="#f59a6e" stroke-width="0.9"/>
<text x="496.6" y="46.60" font-size="6.5" fill="#262626" class="t">90 seg</text>
<line x1="484.6" y1="52.50" x2="495.2" y2="52.50" stroke="#d9576a" stroke-width="0.9"/>
<text x="496.6" y="54.90" font-size="6.5" fill="#262626" class="t">120 seg</text>
<line x1="484.6" y1="60.80" x2="495.2" y2="60.80" stroke="#a8cc72" stroke-width="0.9"/>
<text x="496.6" y="63.20" font-size="6.5" fill="#262626" class="t">180 seg</text>
<line x1="484.6" y1="69.10" x2="495.2" y2="69.10" stroke="#f2c47a" stroke-width="0.9"/>
<text x="496.6" y="71.50" font-size="6.5" fill="#262626" class="t">300 seg</text>
<line x1="484.6" y1="77.40" x2="495.2" y2="77.40" stroke="#6aa6d8" stroke-width="0.9"/>
<text x="496.6" y="79.80" font-size="6.5" fill="#262626" class="t">600 seg</text>
<line x1="484.6" y1="85.70" x2="495.2" y2="85.70" stroke="#6fdd6f" stroke-width="0.9"/>
<text x="496.6" y="88.10" font-size="6.5" fill="#262626" class="t">900 seg</text>
<line x1="484.6" y1="94.00" x2="495.2" y2="94.00" stroke="#c4c4c4" stroke-width="0.9"/>
<text x="496.6" y="96.40" font-size="6.5" fill="#262626" class="t">1200 seg</text>
<line x1="484.6" y1="102.30" x2="495.2" y2="102.30" stroke="#4d4d4d" stroke-width="0.9"/>
<text x="496.6" y="104.70" font-size="6.5" fill="#262626" class="t">1800 seg</text>
</svg></body></html>
